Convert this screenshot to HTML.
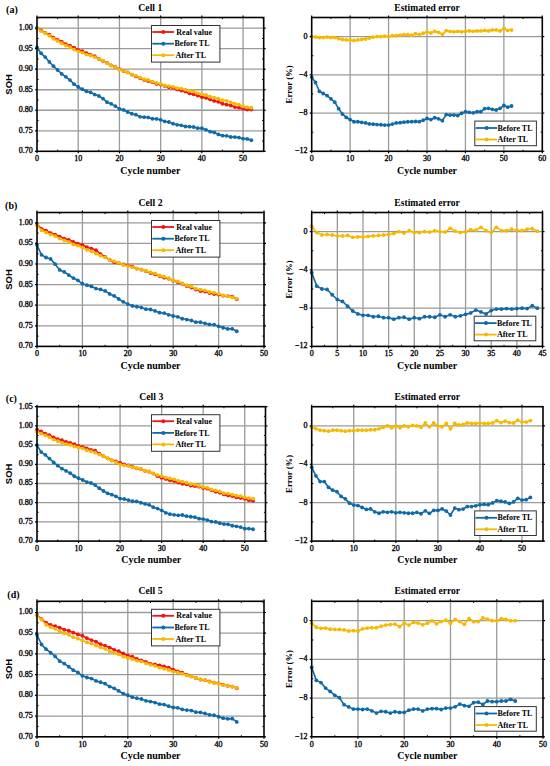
<!DOCTYPE html>
<html><head><meta charset="utf-8"><style>
html,body{margin:0;padding:0;background:#fff;}
body{width:550px;height:766px;overflow:hidden;}
svg{display:block;}
</style></head><body>
<svg width="550" height="766" viewBox="0 0 550 766">
<rect x="0" y="0" width="550" height="766" fill="#fff"/>
<line x1="78.22" y1="17.50" x2="78.22" y2="151.30" stroke="#9a9a9a" stroke-width="1.3"/>
<line x1="119.44" y1="17.50" x2="119.44" y2="151.30" stroke="#9a9a9a" stroke-width="1.3"/>
<line x1="160.65" y1="17.50" x2="160.65" y2="151.30" stroke="#9a9a9a" stroke-width="1.3"/>
<line x1="201.87" y1="17.50" x2="201.87" y2="151.30" stroke="#9a9a9a" stroke-width="1.3"/>
<line x1="243.09" y1="17.50" x2="243.09" y2="151.30" stroke="#9a9a9a" stroke-width="1.3"/>
<line x1="37.00" y1="130.78" x2="263.70" y2="130.78" stroke="#9a9a9a" stroke-width="1.3"/>
<line x1="37.00" y1="110.26" x2="263.70" y2="110.26" stroke="#9a9a9a" stroke-width="1.3"/>
<line x1="37.00" y1="89.74" x2="263.70" y2="89.74" stroke="#9a9a9a" stroke-width="1.3"/>
<line x1="37.00" y1="69.21" x2="263.70" y2="69.21" stroke="#9a9a9a" stroke-width="1.3"/>
<line x1="37.00" y1="48.69" x2="263.70" y2="48.69" stroke="#9a9a9a" stroke-width="1.3"/>
<line x1="37.00" y1="28.17" x2="263.70" y2="28.17" stroke="#9a9a9a" stroke-width="1.3"/>
<polyline points="37.00,28.17 41.12,30.33 45.24,32.82 49.37,34.74 53.49,37.65 57.61,39.85 61.73,41.68 65.85,44.22 69.97,45.74 74.10,47.75 78.22,50.05 82.34,51.10 86.46,53.12 90.58,54.88 94.71,56.20 98.83,58.96 102.95,60.88 107.07,62.85 111.19,65.41 115.31,66.95 119.44,69.11 123.56,71.11 127.68,72.34 131.80,74.60 135.92,76.45 140.05,77.99 144.17,79.95 148.29,80.98 152.41,82.21 156.53,83.92 160.65,84.60 164.78,85.88 168.90,87.15 173.02,87.77 177.14,89.43 181.26,90.54 185.39,91.58 189.51,93.45 193.63,94.32 197.75,95.54 201.87,97.10 205.99,97.85 210.12,99.45 214.24,100.89 218.36,101.81 222.48,103.77 226.60,104.64 230.73,105.51 234.85,107.10 238.97,107.66 243.09,108.71 247.21,109.57 251.33,109.54" fill="none" stroke="#f21212" stroke-width="1.6" stroke-linejoin="round"/>
<circle cx="37.00" cy="28.17" r="1.9" fill="#f21212"/>
<circle cx="41.12" cy="30.33" r="1.9" fill="#f21212"/>
<circle cx="45.24" cy="32.82" r="1.9" fill="#f21212"/>
<circle cx="49.37" cy="34.74" r="1.9" fill="#f21212"/>
<circle cx="53.49" cy="37.65" r="1.9" fill="#f21212"/>
<circle cx="57.61" cy="39.85" r="1.9" fill="#f21212"/>
<circle cx="61.73" cy="41.68" r="1.9" fill="#f21212"/>
<circle cx="65.85" cy="44.22" r="1.9" fill="#f21212"/>
<circle cx="69.97" cy="45.74" r="1.9" fill="#f21212"/>
<circle cx="74.10" cy="47.75" r="1.9" fill="#f21212"/>
<circle cx="78.22" cy="50.05" r="1.9" fill="#f21212"/>
<circle cx="82.34" cy="51.10" r="1.9" fill="#f21212"/>
<circle cx="86.46" cy="53.12" r="1.9" fill="#f21212"/>
<circle cx="90.58" cy="54.88" r="1.9" fill="#f21212"/>
<circle cx="94.71" cy="56.20" r="1.9" fill="#f21212"/>
<circle cx="98.83" cy="58.96" r="1.9" fill="#f21212"/>
<circle cx="102.95" cy="60.88" r="1.9" fill="#f21212"/>
<circle cx="107.07" cy="62.85" r="1.9" fill="#f21212"/>
<circle cx="111.19" cy="65.41" r="1.9" fill="#f21212"/>
<circle cx="115.31" cy="66.95" r="1.9" fill="#f21212"/>
<circle cx="119.44" cy="69.11" r="1.9" fill="#f21212"/>
<circle cx="123.56" cy="71.11" r="1.9" fill="#f21212"/>
<circle cx="127.68" cy="72.34" r="1.9" fill="#f21212"/>
<circle cx="131.80" cy="74.60" r="1.9" fill="#f21212"/>
<circle cx="135.92" cy="76.45" r="1.9" fill="#f21212"/>
<circle cx="140.05" cy="77.99" r="1.9" fill="#f21212"/>
<circle cx="144.17" cy="79.95" r="1.9" fill="#f21212"/>
<circle cx="148.29" cy="80.98" r="1.9" fill="#f21212"/>
<circle cx="152.41" cy="82.21" r="1.9" fill="#f21212"/>
<circle cx="156.53" cy="83.92" r="1.9" fill="#f21212"/>
<circle cx="160.65" cy="84.60" r="1.9" fill="#f21212"/>
<circle cx="164.78" cy="85.88" r="1.9" fill="#f21212"/>
<circle cx="168.90" cy="87.15" r="1.9" fill="#f21212"/>
<circle cx="173.02" cy="87.77" r="1.9" fill="#f21212"/>
<circle cx="177.14" cy="89.43" r="1.9" fill="#f21212"/>
<circle cx="181.26" cy="90.54" r="1.9" fill="#f21212"/>
<circle cx="185.39" cy="91.58" r="1.9" fill="#f21212"/>
<circle cx="189.51" cy="93.45" r="1.9" fill="#f21212"/>
<circle cx="193.63" cy="94.32" r="1.9" fill="#f21212"/>
<circle cx="197.75" cy="95.54" r="1.9" fill="#f21212"/>
<circle cx="201.87" cy="97.10" r="1.9" fill="#f21212"/>
<circle cx="205.99" cy="97.85" r="1.9" fill="#f21212"/>
<circle cx="210.12" cy="99.45" r="1.9" fill="#f21212"/>
<circle cx="214.24" cy="100.89" r="1.9" fill="#f21212"/>
<circle cx="218.36" cy="101.81" r="1.9" fill="#f21212"/>
<circle cx="222.48" cy="103.77" r="1.9" fill="#f21212"/>
<circle cx="226.60" cy="104.64" r="1.9" fill="#f21212"/>
<circle cx="230.73" cy="105.51" r="1.9" fill="#f21212"/>
<circle cx="234.85" cy="107.10" r="1.9" fill="#f21212"/>
<circle cx="238.97" cy="107.66" r="1.9" fill="#f21212"/>
<circle cx="243.09" cy="108.71" r="1.9" fill="#f21212"/>
<circle cx="247.21" cy="109.57" r="1.9" fill="#f21212"/>
<circle cx="251.33" cy="109.54" r="1.9" fill="#f21212"/>
<polyline points="37.00,47.46 41.12,53.33 45.24,57.09 49.37,61.97 53.49,66.22 57.61,70.01 61.73,73.94 65.85,76.84 69.97,80.12 74.10,84.17 78.22,87.02 82.34,89.17 86.46,91.23 90.58,92.31 94.71,94.54 98.83,95.99 102.95,98.54 107.07,102.18 111.19,103.84 115.31,106.08 119.44,108.89 123.56,109.92 127.68,111.99 131.80,113.76 135.92,114.71 140.05,116.81 144.17,117.15 148.29,117.46 152.41,118.77 156.53,118.92 160.65,119.84 164.78,121.46 168.90,121.99 173.02,123.64 177.14,124.79 181.26,125.29 185.39,126.50 189.51,126.66 193.63,127.00 197.75,128.20 201.87,128.24 205.99,129.86 210.12,131.64 214.24,132.43 218.36,134.39 222.48,135.65 226.60,135.80 230.73,137.01 234.85,137.08 238.97,137.54 243.09,138.69 247.21,138.89 251.33,140.13" fill="none" stroke="#0f6aa8" stroke-width="1.6" stroke-linejoin="round"/>
<circle cx="37.00" cy="47.46" r="1.9" fill="#0f6aa8"/>
<circle cx="41.12" cy="53.33" r="1.9" fill="#0f6aa8"/>
<circle cx="45.24" cy="57.09" r="1.9" fill="#0f6aa8"/>
<circle cx="49.37" cy="61.97" r="1.9" fill="#0f6aa8"/>
<circle cx="53.49" cy="66.22" r="1.9" fill="#0f6aa8"/>
<circle cx="57.61" cy="70.01" r="1.9" fill="#0f6aa8"/>
<circle cx="61.73" cy="73.94" r="1.9" fill="#0f6aa8"/>
<circle cx="65.85" cy="76.84" r="1.9" fill="#0f6aa8"/>
<circle cx="69.97" cy="80.12" r="1.9" fill="#0f6aa8"/>
<circle cx="74.10" cy="84.17" r="1.9" fill="#0f6aa8"/>
<circle cx="78.22" cy="87.02" r="1.9" fill="#0f6aa8"/>
<circle cx="82.34" cy="89.17" r="1.9" fill="#0f6aa8"/>
<circle cx="86.46" cy="91.23" r="1.9" fill="#0f6aa8"/>
<circle cx="90.58" cy="92.31" r="1.9" fill="#0f6aa8"/>
<circle cx="94.71" cy="94.54" r="1.9" fill="#0f6aa8"/>
<circle cx="98.83" cy="95.99" r="1.9" fill="#0f6aa8"/>
<circle cx="102.95" cy="98.54" r="1.9" fill="#0f6aa8"/>
<circle cx="107.07" cy="102.18" r="1.9" fill="#0f6aa8"/>
<circle cx="111.19" cy="103.84" r="1.9" fill="#0f6aa8"/>
<circle cx="115.31" cy="106.08" r="1.9" fill="#0f6aa8"/>
<circle cx="119.44" cy="108.89" r="1.9" fill="#0f6aa8"/>
<circle cx="123.56" cy="109.92" r="1.9" fill="#0f6aa8"/>
<circle cx="127.68" cy="111.99" r="1.9" fill="#0f6aa8"/>
<circle cx="131.80" cy="113.76" r="1.9" fill="#0f6aa8"/>
<circle cx="135.92" cy="114.71" r="1.9" fill="#0f6aa8"/>
<circle cx="140.05" cy="116.81" r="1.9" fill="#0f6aa8"/>
<circle cx="144.17" cy="117.15" r="1.9" fill="#0f6aa8"/>
<circle cx="148.29" cy="117.46" r="1.9" fill="#0f6aa8"/>
<circle cx="152.41" cy="118.77" r="1.9" fill="#0f6aa8"/>
<circle cx="156.53" cy="118.92" r="1.9" fill="#0f6aa8"/>
<circle cx="160.65" cy="119.84" r="1.9" fill="#0f6aa8"/>
<circle cx="164.78" cy="121.46" r="1.9" fill="#0f6aa8"/>
<circle cx="168.90" cy="121.99" r="1.9" fill="#0f6aa8"/>
<circle cx="173.02" cy="123.64" r="1.9" fill="#0f6aa8"/>
<circle cx="177.14" cy="124.79" r="1.9" fill="#0f6aa8"/>
<circle cx="181.26" cy="125.29" r="1.9" fill="#0f6aa8"/>
<circle cx="185.39" cy="126.50" r="1.9" fill="#0f6aa8"/>
<circle cx="189.51" cy="126.66" r="1.9" fill="#0f6aa8"/>
<circle cx="193.63" cy="127.00" r="1.9" fill="#0f6aa8"/>
<circle cx="197.75" cy="128.20" r="1.9" fill="#0f6aa8"/>
<circle cx="201.87" cy="128.24" r="1.9" fill="#0f6aa8"/>
<circle cx="205.99" cy="129.86" r="1.9" fill="#0f6aa8"/>
<circle cx="210.12" cy="131.64" r="1.9" fill="#0f6aa8"/>
<circle cx="214.24" cy="132.43" r="1.9" fill="#0f6aa8"/>
<circle cx="218.36" cy="134.39" r="1.9" fill="#0f6aa8"/>
<circle cx="222.48" cy="135.65" r="1.9" fill="#0f6aa8"/>
<circle cx="226.60" cy="135.80" r="1.9" fill="#0f6aa8"/>
<circle cx="230.73" cy="137.01" r="1.9" fill="#0f6aa8"/>
<circle cx="234.85" cy="137.08" r="1.9" fill="#0f6aa8"/>
<circle cx="238.97" cy="137.54" r="1.9" fill="#0f6aa8"/>
<circle cx="243.09" cy="138.69" r="1.9" fill="#0f6aa8"/>
<circle cx="247.21" cy="138.89" r="1.9" fill="#0f6aa8"/>
<circle cx="251.33" cy="140.13" r="1.9" fill="#0f6aa8"/>
<polyline points="37.00,28.17 41.12,31.08 45.24,33.24 49.37,35.73 53.49,38.77 57.61,40.92 61.73,43.24 65.85,45.50 69.97,47.07 74.10,49.57 78.22,51.37 82.34,52.57 86.46,54.55 90.58,55.58 94.71,57.11 98.83,59.04 102.95,60.61 107.07,63.10 111.19,65.35 115.31,67.04 119.44,69.64 123.56,71.09 127.68,72.52 131.80,74.64 135.92,75.79 140.05,77.58 144.17,79.13 148.29,79.90 152.41,81.64 156.53,82.98 160.65,83.89 164.78,85.42 168.90,86.05 173.02,86.82 177.14,88.16 181.26,88.54 185.39,89.70 189.51,90.94 193.63,91.48 197.75,93.04 201.87,94.04 205.99,95.00 210.12,96.77 214.24,97.56 218.36,98.66 222.48,100.20 226.60,100.81 230.73,102.30 234.85,103.72 238.97,104.56 243.09,106.40 247.21,107.14 251.33,107.75" fill="none" stroke="#f7b900" stroke-width="1.6" stroke-linejoin="round"/>
<circle cx="37.00" cy="28.17" r="1.9" fill="#f7b900"/>
<circle cx="41.12" cy="31.08" r="1.9" fill="#f7b900"/>
<circle cx="45.24" cy="33.24" r="1.9" fill="#f7b900"/>
<circle cx="49.37" cy="35.73" r="1.9" fill="#f7b900"/>
<circle cx="53.49" cy="38.77" r="1.9" fill="#f7b900"/>
<circle cx="57.61" cy="40.92" r="1.9" fill="#f7b900"/>
<circle cx="61.73" cy="43.24" r="1.9" fill="#f7b900"/>
<circle cx="65.85" cy="45.50" r="1.9" fill="#f7b900"/>
<circle cx="69.97" cy="47.07" r="1.9" fill="#f7b900"/>
<circle cx="74.10" cy="49.57" r="1.9" fill="#f7b900"/>
<circle cx="78.22" cy="51.37" r="1.9" fill="#f7b900"/>
<circle cx="82.34" cy="52.57" r="1.9" fill="#f7b900"/>
<circle cx="86.46" cy="54.55" r="1.9" fill="#f7b900"/>
<circle cx="90.58" cy="55.58" r="1.9" fill="#f7b900"/>
<circle cx="94.71" cy="57.11" r="1.9" fill="#f7b900"/>
<circle cx="98.83" cy="59.04" r="1.9" fill="#f7b900"/>
<circle cx="102.95" cy="60.61" r="1.9" fill="#f7b900"/>
<circle cx="107.07" cy="63.10" r="1.9" fill="#f7b900"/>
<circle cx="111.19" cy="65.35" r="1.9" fill="#f7b900"/>
<circle cx="115.31" cy="67.04" r="1.9" fill="#f7b900"/>
<circle cx="119.44" cy="69.64" r="1.9" fill="#f7b900"/>
<circle cx="123.56" cy="71.09" r="1.9" fill="#f7b900"/>
<circle cx="127.68" cy="72.52" r="1.9" fill="#f7b900"/>
<circle cx="131.80" cy="74.64" r="1.9" fill="#f7b900"/>
<circle cx="135.92" cy="75.79" r="1.9" fill="#f7b900"/>
<circle cx="140.05" cy="77.58" r="1.9" fill="#f7b900"/>
<circle cx="144.17" cy="79.13" r="1.9" fill="#f7b900"/>
<circle cx="148.29" cy="79.90" r="1.9" fill="#f7b900"/>
<circle cx="152.41" cy="81.64" r="1.9" fill="#f7b900"/>
<circle cx="156.53" cy="82.98" r="1.9" fill="#f7b900"/>
<circle cx="160.65" cy="83.89" r="1.9" fill="#f7b900"/>
<circle cx="164.78" cy="85.42" r="1.9" fill="#f7b900"/>
<circle cx="168.90" cy="86.05" r="1.9" fill="#f7b900"/>
<circle cx="173.02" cy="86.82" r="1.9" fill="#f7b900"/>
<circle cx="177.14" cy="88.16" r="1.9" fill="#f7b900"/>
<circle cx="181.26" cy="88.54" r="1.9" fill="#f7b900"/>
<circle cx="185.39" cy="89.70" r="1.9" fill="#f7b900"/>
<circle cx="189.51" cy="90.94" r="1.9" fill="#f7b900"/>
<circle cx="193.63" cy="91.48" r="1.9" fill="#f7b900"/>
<circle cx="197.75" cy="93.04" r="1.9" fill="#f7b900"/>
<circle cx="201.87" cy="94.04" r="1.9" fill="#f7b900"/>
<circle cx="205.99" cy="95.00" r="1.9" fill="#f7b900"/>
<circle cx="210.12" cy="96.77" r="1.9" fill="#f7b900"/>
<circle cx="214.24" cy="97.56" r="1.9" fill="#f7b900"/>
<circle cx="218.36" cy="98.66" r="1.9" fill="#f7b900"/>
<circle cx="222.48" cy="100.20" r="1.9" fill="#f7b900"/>
<circle cx="226.60" cy="100.81" r="1.9" fill="#f7b900"/>
<circle cx="230.73" cy="102.30" r="1.9" fill="#f7b900"/>
<circle cx="234.85" cy="103.72" r="1.9" fill="#f7b900"/>
<circle cx="238.97" cy="104.56" r="1.9" fill="#f7b900"/>
<circle cx="243.09" cy="106.40" r="1.9" fill="#f7b900"/>
<circle cx="247.21" cy="107.14" r="1.9" fill="#f7b900"/>
<circle cx="251.33" cy="107.75" r="1.9" fill="#f7b900"/>
<rect x="37.00" y="17.50" width="226.70" height="133.80" fill="none" stroke="#000" stroke-width="1.6"/>
<line x1="37.00" y1="151.30" x2="37.00" y2="153.30" stroke="#000" stroke-width="1.2"/>
<line x1="37.00" y1="17.50" x2="37.00" y2="15.50" stroke="#000" stroke-width="1.2"/>
<line x1="78.22" y1="151.30" x2="78.22" y2="153.30" stroke="#000" stroke-width="1.2"/>
<line x1="78.22" y1="17.50" x2="78.22" y2="15.50" stroke="#000" stroke-width="1.2"/>
<line x1="119.44" y1="151.30" x2="119.44" y2="153.30" stroke="#000" stroke-width="1.2"/>
<line x1="119.44" y1="17.50" x2="119.44" y2="15.50" stroke="#000" stroke-width="1.2"/>
<line x1="160.65" y1="151.30" x2="160.65" y2="153.30" stroke="#000" stroke-width="1.2"/>
<line x1="160.65" y1="17.50" x2="160.65" y2="15.50" stroke="#000" stroke-width="1.2"/>
<line x1="201.87" y1="151.30" x2="201.87" y2="153.30" stroke="#000" stroke-width="1.2"/>
<line x1="201.87" y1="17.50" x2="201.87" y2="15.50" stroke="#000" stroke-width="1.2"/>
<line x1="243.09" y1="151.30" x2="243.09" y2="153.30" stroke="#000" stroke-width="1.2"/>
<line x1="243.09" y1="17.50" x2="243.09" y2="15.50" stroke="#000" stroke-width="1.2"/>
<line x1="37.00" y1="151.30" x2="35.00" y2="151.30" stroke="#000" stroke-width="1.2"/>
<line x1="263.70" y1="151.30" x2="265.70" y2="151.30" stroke="#000" stroke-width="1.2"/>
<line x1="37.00" y1="130.78" x2="35.00" y2="130.78" stroke="#000" stroke-width="1.2"/>
<line x1="263.70" y1="130.78" x2="265.70" y2="130.78" stroke="#000" stroke-width="1.2"/>
<line x1="37.00" y1="110.26" x2="35.00" y2="110.26" stroke="#000" stroke-width="1.2"/>
<line x1="263.70" y1="110.26" x2="265.70" y2="110.26" stroke="#000" stroke-width="1.2"/>
<line x1="37.00" y1="89.74" x2="35.00" y2="89.74" stroke="#000" stroke-width="1.2"/>
<line x1="263.70" y1="89.74" x2="265.70" y2="89.74" stroke="#000" stroke-width="1.2"/>
<line x1="37.00" y1="69.21" x2="35.00" y2="69.21" stroke="#000" stroke-width="1.2"/>
<line x1="263.70" y1="69.21" x2="265.70" y2="69.21" stroke="#000" stroke-width="1.2"/>
<line x1="37.00" y1="48.69" x2="35.00" y2="48.69" stroke="#000" stroke-width="1.2"/>
<line x1="263.70" y1="48.69" x2="265.70" y2="48.69" stroke="#000" stroke-width="1.2"/>
<line x1="37.00" y1="28.17" x2="35.00" y2="28.17" stroke="#000" stroke-width="1.2"/>
<line x1="263.70" y1="28.17" x2="265.70" y2="28.17" stroke="#000" stroke-width="1.2"/>
<line x1="57.61" y1="151.30" x2="57.61" y2="149.70" stroke="#000" stroke-width="1"/>
<line x1="57.61" y1="17.50" x2="57.61" y2="19.10" stroke="#000" stroke-width="1"/>
<line x1="98.83" y1="151.30" x2="98.83" y2="149.70" stroke="#000" stroke-width="1"/>
<line x1="98.83" y1="17.50" x2="98.83" y2="19.10" stroke="#000" stroke-width="1"/>
<line x1="140.05" y1="151.30" x2="140.05" y2="149.70" stroke="#000" stroke-width="1"/>
<line x1="140.05" y1="17.50" x2="140.05" y2="19.10" stroke="#000" stroke-width="1"/>
<line x1="181.26" y1="151.30" x2="181.26" y2="149.70" stroke="#000" stroke-width="1"/>
<line x1="181.26" y1="17.50" x2="181.26" y2="19.10" stroke="#000" stroke-width="1"/>
<line x1="222.48" y1="151.30" x2="222.48" y2="149.70" stroke="#000" stroke-width="1"/>
<line x1="222.48" y1="17.50" x2="222.48" y2="19.10" stroke="#000" stroke-width="1"/>
<line x1="37.00" y1="141.04" x2="38.60" y2="141.04" stroke="#000" stroke-width="1"/>
<line x1="263.70" y1="141.04" x2="262.10" y2="141.04" stroke="#000" stroke-width="1"/>
<line x1="37.00" y1="120.52" x2="38.60" y2="120.52" stroke="#000" stroke-width="1"/>
<line x1="263.70" y1="120.52" x2="262.10" y2="120.52" stroke="#000" stroke-width="1"/>
<line x1="37.00" y1="100.00" x2="38.60" y2="100.00" stroke="#000" stroke-width="1"/>
<line x1="263.70" y1="100.00" x2="262.10" y2="100.00" stroke="#000" stroke-width="1"/>
<line x1="37.00" y1="79.47" x2="38.60" y2="79.47" stroke="#000" stroke-width="1"/>
<line x1="263.70" y1="79.47" x2="262.10" y2="79.47" stroke="#000" stroke-width="1"/>
<line x1="37.00" y1="58.95" x2="38.60" y2="58.95" stroke="#000" stroke-width="1"/>
<line x1="263.70" y1="58.95" x2="262.10" y2="58.95" stroke="#000" stroke-width="1"/>
<line x1="37.00" y1="38.43" x2="38.60" y2="38.43" stroke="#000" stroke-width="1"/>
<line x1="263.70" y1="38.43" x2="262.10" y2="38.43" stroke="#000" stroke-width="1"/>
<line x1="37.00" y1="17.91" x2="38.60" y2="17.91" stroke="#000" stroke-width="1"/>
<line x1="263.70" y1="17.91" x2="262.10" y2="17.91" stroke="#000" stroke-width="1"/>
<text x="0" y="0" transform="translate(37.00,161.00) scale(1.100,1)" style="font-family:'Liberation Serif',serif;font-size:7.30px" text-anchor="middle" stroke="#000" stroke-width="0.30">0</text>
<text x="0" y="0" transform="translate(78.22,161.00) scale(1.100,1)" style="font-family:'Liberation Serif',serif;font-size:7.30px" text-anchor="middle" stroke="#000" stroke-width="0.30">10</text>
<text x="0" y="0" transform="translate(119.44,161.00) scale(1.100,1)" style="font-family:'Liberation Serif',serif;font-size:7.30px" text-anchor="middle" stroke="#000" stroke-width="0.30">20</text>
<text x="0" y="0" transform="translate(160.65,161.00) scale(1.100,1)" style="font-family:'Liberation Serif',serif;font-size:7.30px" text-anchor="middle" stroke="#000" stroke-width="0.30">30</text>
<text x="0" y="0" transform="translate(201.87,161.00) scale(1.100,1)" style="font-family:'Liberation Serif',serif;font-size:7.30px" text-anchor="middle" stroke="#000" stroke-width="0.30">40</text>
<text x="0" y="0" transform="translate(243.09,161.00) scale(1.100,1)" style="font-family:'Liberation Serif',serif;font-size:7.30px" text-anchor="middle" stroke="#000" stroke-width="0.30">50</text>
<text x="0" y="0" transform="translate(32.70,153.20) scale(1.100,1)" style="font-family:'Liberation Serif',serif;font-size:7.30px" text-anchor="end" stroke="#000" stroke-width="0.30">0.70</text>
<text x="0" y="0" transform="translate(32.70,132.68) scale(1.100,1)" style="font-family:'Liberation Serif',serif;font-size:7.30px" text-anchor="end" stroke="#000" stroke-width="0.30">0.75</text>
<text x="0" y="0" transform="translate(32.70,112.16) scale(1.100,1)" style="font-family:'Liberation Serif',serif;font-size:7.30px" text-anchor="end" stroke="#000" stroke-width="0.30">0.80</text>
<text x="0" y="0" transform="translate(32.70,91.64) scale(1.100,1)" style="font-family:'Liberation Serif',serif;font-size:7.30px" text-anchor="end" stroke="#000" stroke-width="0.30">0.85</text>
<text x="0" y="0" transform="translate(32.70,71.11) scale(1.100,1)" style="font-family:'Liberation Serif',serif;font-size:7.30px" text-anchor="end" stroke="#000" stroke-width="0.30">0.90</text>
<text x="0" y="0" transform="translate(32.70,50.59) scale(1.100,1)" style="font-family:'Liberation Serif',serif;font-size:7.30px" text-anchor="end" stroke="#000" stroke-width="0.30">0.95</text>
<text x="0" y="0" transform="translate(32.70,30.07) scale(1.100,1)" style="font-family:'Liberation Serif',serif;font-size:7.30px" text-anchor="end" stroke="#000" stroke-width="0.30">1.00</text>
<text x="150.35" y="10.50" style="font-family:'Liberation Serif',serif;font-size:9.40px;font-weight:bold" text-anchor="middle" textLength="24.0" lengthAdjust="spacingAndGlyphs">Cell 1</text>
<text x="150.35" y="173.60" style="font-family:'Liberation Serif',serif;font-size:9.60px;font-weight:bold" text-anchor="middle" textLength="60.0" lengthAdjust="spacingAndGlyphs">Cycle number</text>
<text x="0" y="0" transform="translate(12.20,84.40) rotate(-90)" style="font-family:'Liberation Sans',sans-serif;font-size:9px;font-weight:bold" text-anchor="middle" textLength="20.5" lengthAdjust="spacingAndGlyphs">SOH</text>
<rect x="151.50" y="25.50" width="68.40" height="36.60" fill="#fff" stroke="#333" stroke-width="1"/>
<line x1="152.30" y1="32.00" x2="174.00" y2="32.00" stroke="#f21212" stroke-width="1.8"/>
<circle cx="163.30" cy="32.00" r="2" fill="#f21212"/>
<text x="176.30" y="34.60" style="font-family:'Liberation Serif',serif;font-size:8.00px;font-weight:bold" text-anchor="start">Real value</text>
<line x1="152.30" y1="43.70" x2="174.00" y2="43.70" stroke="#0f6aa8" stroke-width="1.8"/>
<circle cx="163.30" cy="43.70" r="2" fill="#0f6aa8"/>
<text x="174.50" y="46.30" style="font-family:'Liberation Serif',serif;font-size:8.00px;font-weight:bold" text-anchor="start">Before TL</text>
<line x1="152.30" y1="55.20" x2="174.00" y2="55.20" stroke="#f7b900" stroke-width="1.8"/>
<circle cx="163.30" cy="55.20" r="2" fill="#f7b900"/>
<text x="175.40" y="57.80" style="font-family:'Liberation Serif',serif;font-size:8.00px;font-weight:bold" text-anchor="start">After TL</text>
<line x1="350.13" y1="17.50" x2="350.13" y2="151.30" stroke="#9a9a9a" stroke-width="1.3"/>
<line x1="388.57" y1="17.50" x2="388.57" y2="151.30" stroke="#9a9a9a" stroke-width="1.3"/>
<line x1="427.00" y1="17.50" x2="427.00" y2="151.30" stroke="#9a9a9a" stroke-width="1.3"/>
<line x1="465.43" y1="17.50" x2="465.43" y2="151.30" stroke="#9a9a9a" stroke-width="1.3"/>
<line x1="503.87" y1="17.50" x2="503.87" y2="151.30" stroke="#9a9a9a" stroke-width="1.3"/>
<line x1="311.70" y1="113.07" x2="542.30" y2="113.07" stroke="#9a9a9a" stroke-width="1.3"/>
<line x1="311.70" y1="74.84" x2="542.30" y2="74.84" stroke="#9a9a9a" stroke-width="1.3"/>
<line x1="311.70" y1="36.61" x2="542.30" y2="36.61" stroke="#9a9a9a" stroke-width="1.3"/>
<polyline points="311.70,77.04 315.54,82.49 319.39,91.28 323.23,93.48 327.07,95.58 330.92,98.83 334.76,102.18 338.60,108.68 342.45,114.03 346.29,117.47 350.13,119.57 353.98,121.77 357.82,121.77 361.66,122.34 365.51,122.92 369.35,123.97 373.19,124.16 377.04,124.54 380.88,124.73 384.72,125.11 388.57,125.11 392.41,124.06 396.25,122.92 400.10,122.63 403.94,122.15 407.78,121.77 411.63,121.67 415.47,121.48 419.31,121.67 423.16,120.24 427.00,118.42 430.84,119.57 434.69,117.75 438.53,118.81 442.37,120.72 446.22,114.60 450.06,115.08 453.90,115.08 457.75,115.56 461.59,113.26 465.43,111.64 469.28,112.31 473.12,112.78 476.96,111.64 480.81,111.64 484.65,108.68 488.49,108.29 492.34,109.34 496.18,110.01 500.02,108.29 503.87,105.52 507.71,107.15 511.55,106.00" fill="none" stroke="#0f6aa8" stroke-width="1.6" stroke-linejoin="round"/>
<circle cx="311.70" cy="77.04" r="1.9" fill="#0f6aa8"/>
<circle cx="315.54" cy="82.49" r="1.9" fill="#0f6aa8"/>
<circle cx="319.39" cy="91.28" r="1.9" fill="#0f6aa8"/>
<circle cx="323.23" cy="93.48" r="1.9" fill="#0f6aa8"/>
<circle cx="327.07" cy="95.58" r="1.9" fill="#0f6aa8"/>
<circle cx="330.92" cy="98.83" r="1.9" fill="#0f6aa8"/>
<circle cx="334.76" cy="102.18" r="1.9" fill="#0f6aa8"/>
<circle cx="338.60" cy="108.68" r="1.9" fill="#0f6aa8"/>
<circle cx="342.45" cy="114.03" r="1.9" fill="#0f6aa8"/>
<circle cx="346.29" cy="117.47" r="1.9" fill="#0f6aa8"/>
<circle cx="350.13" cy="119.57" r="1.9" fill="#0f6aa8"/>
<circle cx="353.98" cy="121.77" r="1.9" fill="#0f6aa8"/>
<circle cx="357.82" cy="121.77" r="1.9" fill="#0f6aa8"/>
<circle cx="361.66" cy="122.34" r="1.9" fill="#0f6aa8"/>
<circle cx="365.51" cy="122.92" r="1.9" fill="#0f6aa8"/>
<circle cx="369.35" cy="123.97" r="1.9" fill="#0f6aa8"/>
<circle cx="373.19" cy="124.16" r="1.9" fill="#0f6aa8"/>
<circle cx="377.04" cy="124.54" r="1.9" fill="#0f6aa8"/>
<circle cx="380.88" cy="124.73" r="1.9" fill="#0f6aa8"/>
<circle cx="384.72" cy="125.11" r="1.9" fill="#0f6aa8"/>
<circle cx="388.57" cy="125.11" r="1.9" fill="#0f6aa8"/>
<circle cx="392.41" cy="124.06" r="1.9" fill="#0f6aa8"/>
<circle cx="396.25" cy="122.92" r="1.9" fill="#0f6aa8"/>
<circle cx="400.10" cy="122.63" r="1.9" fill="#0f6aa8"/>
<circle cx="403.94" cy="122.15" r="1.9" fill="#0f6aa8"/>
<circle cx="407.78" cy="121.77" r="1.9" fill="#0f6aa8"/>
<circle cx="411.63" cy="121.67" r="1.9" fill="#0f6aa8"/>
<circle cx="415.47" cy="121.48" r="1.9" fill="#0f6aa8"/>
<circle cx="419.31" cy="121.67" r="1.9" fill="#0f6aa8"/>
<circle cx="423.16" cy="120.24" r="1.9" fill="#0f6aa8"/>
<circle cx="427.00" cy="118.42" r="1.9" fill="#0f6aa8"/>
<circle cx="430.84" cy="119.57" r="1.9" fill="#0f6aa8"/>
<circle cx="434.69" cy="117.75" r="1.9" fill="#0f6aa8"/>
<circle cx="438.53" cy="118.81" r="1.9" fill="#0f6aa8"/>
<circle cx="442.37" cy="120.72" r="1.9" fill="#0f6aa8"/>
<circle cx="446.22" cy="114.60" r="1.9" fill="#0f6aa8"/>
<circle cx="450.06" cy="115.08" r="1.9" fill="#0f6aa8"/>
<circle cx="453.90" cy="115.08" r="1.9" fill="#0f6aa8"/>
<circle cx="457.75" cy="115.56" r="1.9" fill="#0f6aa8"/>
<circle cx="461.59" cy="113.26" r="1.9" fill="#0f6aa8"/>
<circle cx="465.43" cy="111.64" r="1.9" fill="#0f6aa8"/>
<circle cx="469.28" cy="112.31" r="1.9" fill="#0f6aa8"/>
<circle cx="473.12" cy="112.78" r="1.9" fill="#0f6aa8"/>
<circle cx="476.96" cy="111.64" r="1.9" fill="#0f6aa8"/>
<circle cx="480.81" cy="111.64" r="1.9" fill="#0f6aa8"/>
<circle cx="484.65" cy="108.68" r="1.9" fill="#0f6aa8"/>
<circle cx="488.49" cy="108.29" r="1.9" fill="#0f6aa8"/>
<circle cx="492.34" cy="109.34" r="1.9" fill="#0f6aa8"/>
<circle cx="496.18" cy="110.01" r="1.9" fill="#0f6aa8"/>
<circle cx="500.02" cy="108.29" r="1.9" fill="#0f6aa8"/>
<circle cx="503.87" cy="105.52" r="1.9" fill="#0f6aa8"/>
<circle cx="507.71" cy="107.15" r="1.9" fill="#0f6aa8"/>
<circle cx="511.55" cy="106.00" r="1.9" fill="#0f6aa8"/>
<polyline points="311.70,36.61 315.54,37.09 319.39,37.57 323.23,37.57 327.07,37.09 330.92,37.57 334.76,37.57 338.60,38.53 342.45,39.48 346.29,39.96 350.13,39.96 353.98,40.44 357.82,39.96 361.66,39.48 365.51,39.00 369.35,38.05 373.19,37.09 377.04,36.61 380.88,36.61 384.72,36.14 388.57,36.61 392.41,35.66 396.25,35.66 400.10,35.18 403.94,34.70 407.78,34.70 411.63,35.18 415.47,33.75 419.31,34.70 423.16,33.27 427.00,32.03 430.84,32.98 434.69,31.36 438.53,32.31 442.37,34.32 446.22,30.69 450.06,31.36 453.90,31.84 457.75,31.36 461.59,31.84 465.43,31.36 469.28,30.88 473.12,31.36 476.96,30.88 480.81,30.88 484.65,30.40 488.49,30.88 492.34,29.92 496.18,29.92 500.02,30.88 503.87,28.49 507.71,30.40 511.55,30.02" fill="none" stroke="#f7b900" stroke-width="1.6" stroke-linejoin="round"/>
<circle cx="311.70" cy="36.61" r="1.9" fill="#f7b900"/>
<circle cx="315.54" cy="37.09" r="1.9" fill="#f7b900"/>
<circle cx="319.39" cy="37.57" r="1.9" fill="#f7b900"/>
<circle cx="323.23" cy="37.57" r="1.9" fill="#f7b900"/>
<circle cx="327.07" cy="37.09" r="1.9" fill="#f7b900"/>
<circle cx="330.92" cy="37.57" r="1.9" fill="#f7b900"/>
<circle cx="334.76" cy="37.57" r="1.9" fill="#f7b900"/>
<circle cx="338.60" cy="38.53" r="1.9" fill="#f7b900"/>
<circle cx="342.45" cy="39.48" r="1.9" fill="#f7b900"/>
<circle cx="346.29" cy="39.96" r="1.9" fill="#f7b900"/>
<circle cx="350.13" cy="39.96" r="1.9" fill="#f7b900"/>
<circle cx="353.98" cy="40.44" r="1.9" fill="#f7b900"/>
<circle cx="357.82" cy="39.96" r="1.9" fill="#f7b900"/>
<circle cx="361.66" cy="39.48" r="1.9" fill="#f7b900"/>
<circle cx="365.51" cy="39.00" r="1.9" fill="#f7b900"/>
<circle cx="369.35" cy="38.05" r="1.9" fill="#f7b900"/>
<circle cx="373.19" cy="37.09" r="1.9" fill="#f7b900"/>
<circle cx="377.04" cy="36.61" r="1.9" fill="#f7b900"/>
<circle cx="380.88" cy="36.61" r="1.9" fill="#f7b900"/>
<circle cx="384.72" cy="36.14" r="1.9" fill="#f7b900"/>
<circle cx="388.57" cy="36.61" r="1.9" fill="#f7b900"/>
<circle cx="392.41" cy="35.66" r="1.9" fill="#f7b900"/>
<circle cx="396.25" cy="35.66" r="1.9" fill="#f7b900"/>
<circle cx="400.10" cy="35.18" r="1.9" fill="#f7b900"/>
<circle cx="403.94" cy="34.70" r="1.9" fill="#f7b900"/>
<circle cx="407.78" cy="34.70" r="1.9" fill="#f7b900"/>
<circle cx="411.63" cy="35.18" r="1.9" fill="#f7b900"/>
<circle cx="415.47" cy="33.75" r="1.9" fill="#f7b900"/>
<circle cx="419.31" cy="34.70" r="1.9" fill="#f7b900"/>
<circle cx="423.16" cy="33.27" r="1.9" fill="#f7b900"/>
<circle cx="427.00" cy="32.03" r="1.9" fill="#f7b900"/>
<circle cx="430.84" cy="32.98" r="1.9" fill="#f7b900"/>
<circle cx="434.69" cy="31.36" r="1.9" fill="#f7b900"/>
<circle cx="438.53" cy="32.31" r="1.9" fill="#f7b900"/>
<circle cx="442.37" cy="34.32" r="1.9" fill="#f7b900"/>
<circle cx="446.22" cy="30.69" r="1.9" fill="#f7b900"/>
<circle cx="450.06" cy="31.36" r="1.9" fill="#f7b900"/>
<circle cx="453.90" cy="31.84" r="1.9" fill="#f7b900"/>
<circle cx="457.75" cy="31.36" r="1.9" fill="#f7b900"/>
<circle cx="461.59" cy="31.84" r="1.9" fill="#f7b900"/>
<circle cx="465.43" cy="31.36" r="1.9" fill="#f7b900"/>
<circle cx="469.28" cy="30.88" r="1.9" fill="#f7b900"/>
<circle cx="473.12" cy="31.36" r="1.9" fill="#f7b900"/>
<circle cx="476.96" cy="30.88" r="1.9" fill="#f7b900"/>
<circle cx="480.81" cy="30.88" r="1.9" fill="#f7b900"/>
<circle cx="484.65" cy="30.40" r="1.9" fill="#f7b900"/>
<circle cx="488.49" cy="30.88" r="1.9" fill="#f7b900"/>
<circle cx="492.34" cy="29.92" r="1.9" fill="#f7b900"/>
<circle cx="496.18" cy="29.92" r="1.9" fill="#f7b900"/>
<circle cx="500.02" cy="30.88" r="1.9" fill="#f7b900"/>
<circle cx="503.87" cy="28.49" r="1.9" fill="#f7b900"/>
<circle cx="507.71" cy="30.40" r="1.9" fill="#f7b900"/>
<circle cx="511.55" cy="30.02" r="1.9" fill="#f7b900"/>
<rect x="311.70" y="17.50" width="230.60" height="133.80" fill="none" stroke="#000" stroke-width="1.6"/>
<line x1="311.70" y1="151.30" x2="311.70" y2="153.30" stroke="#000" stroke-width="1.2"/>
<line x1="311.70" y1="17.50" x2="311.70" y2="15.50" stroke="#000" stroke-width="1.2"/>
<line x1="350.13" y1="151.30" x2="350.13" y2="153.30" stroke="#000" stroke-width="1.2"/>
<line x1="350.13" y1="17.50" x2="350.13" y2="15.50" stroke="#000" stroke-width="1.2"/>
<line x1="388.57" y1="151.30" x2="388.57" y2="153.30" stroke="#000" stroke-width="1.2"/>
<line x1="388.57" y1="17.50" x2="388.57" y2="15.50" stroke="#000" stroke-width="1.2"/>
<line x1="427.00" y1="151.30" x2="427.00" y2="153.30" stroke="#000" stroke-width="1.2"/>
<line x1="427.00" y1="17.50" x2="427.00" y2="15.50" stroke="#000" stroke-width="1.2"/>
<line x1="465.43" y1="151.30" x2="465.43" y2="153.30" stroke="#000" stroke-width="1.2"/>
<line x1="465.43" y1="17.50" x2="465.43" y2="15.50" stroke="#000" stroke-width="1.2"/>
<line x1="503.87" y1="151.30" x2="503.87" y2="153.30" stroke="#000" stroke-width="1.2"/>
<line x1="503.87" y1="17.50" x2="503.87" y2="15.50" stroke="#000" stroke-width="1.2"/>
<line x1="542.30" y1="151.30" x2="542.30" y2="153.30" stroke="#000" stroke-width="1.2"/>
<line x1="542.30" y1="17.50" x2="542.30" y2="15.50" stroke="#000" stroke-width="1.2"/>
<line x1="311.70" y1="151.30" x2="309.70" y2="151.30" stroke="#000" stroke-width="1.2"/>
<line x1="542.30" y1="151.30" x2="544.30" y2="151.30" stroke="#000" stroke-width="1.2"/>
<line x1="311.70" y1="113.07" x2="309.70" y2="113.07" stroke="#000" stroke-width="1.2"/>
<line x1="542.30" y1="113.07" x2="544.30" y2="113.07" stroke="#000" stroke-width="1.2"/>
<line x1="311.70" y1="74.84" x2="309.70" y2="74.84" stroke="#000" stroke-width="1.2"/>
<line x1="542.30" y1="74.84" x2="544.30" y2="74.84" stroke="#000" stroke-width="1.2"/>
<line x1="311.70" y1="36.61" x2="309.70" y2="36.61" stroke="#000" stroke-width="1.2"/>
<line x1="542.30" y1="36.61" x2="544.30" y2="36.61" stroke="#000" stroke-width="1.2"/>
<line x1="330.92" y1="151.30" x2="330.92" y2="149.70" stroke="#000" stroke-width="1"/>
<line x1="330.92" y1="17.50" x2="330.92" y2="19.10" stroke="#000" stroke-width="1"/>
<line x1="369.35" y1="151.30" x2="369.35" y2="149.70" stroke="#000" stroke-width="1"/>
<line x1="369.35" y1="17.50" x2="369.35" y2="19.10" stroke="#000" stroke-width="1"/>
<line x1="407.78" y1="151.30" x2="407.78" y2="149.70" stroke="#000" stroke-width="1"/>
<line x1="407.78" y1="17.50" x2="407.78" y2="19.10" stroke="#000" stroke-width="1"/>
<line x1="446.22" y1="151.30" x2="446.22" y2="149.70" stroke="#000" stroke-width="1"/>
<line x1="446.22" y1="17.50" x2="446.22" y2="19.10" stroke="#000" stroke-width="1"/>
<line x1="484.65" y1="151.30" x2="484.65" y2="149.70" stroke="#000" stroke-width="1"/>
<line x1="484.65" y1="17.50" x2="484.65" y2="19.10" stroke="#000" stroke-width="1"/>
<line x1="523.08" y1="151.30" x2="523.08" y2="149.70" stroke="#000" stroke-width="1"/>
<line x1="523.08" y1="17.50" x2="523.08" y2="19.10" stroke="#000" stroke-width="1"/>
<line x1="311.70" y1="132.19" x2="313.30" y2="132.19" stroke="#000" stroke-width="1"/>
<line x1="542.30" y1="132.19" x2="540.70" y2="132.19" stroke="#000" stroke-width="1"/>
<line x1="311.70" y1="93.96" x2="313.30" y2="93.96" stroke="#000" stroke-width="1"/>
<line x1="542.30" y1="93.96" x2="540.70" y2="93.96" stroke="#000" stroke-width="1"/>
<line x1="311.70" y1="55.73" x2="313.30" y2="55.73" stroke="#000" stroke-width="1"/>
<line x1="542.30" y1="55.73" x2="540.70" y2="55.73" stroke="#000" stroke-width="1"/>
<text x="0" y="0" transform="translate(311.70,161.00) scale(1.100,1)" style="font-family:'Liberation Serif',serif;font-size:7.30px" text-anchor="middle" stroke="#000" stroke-width="0.30">0</text>
<text x="0" y="0" transform="translate(350.13,161.00) scale(1.100,1)" style="font-family:'Liberation Serif',serif;font-size:7.30px" text-anchor="middle" stroke="#000" stroke-width="0.30">10</text>
<text x="0" y="0" transform="translate(388.57,161.00) scale(1.100,1)" style="font-family:'Liberation Serif',serif;font-size:7.30px" text-anchor="middle" stroke="#000" stroke-width="0.30">20</text>
<text x="0" y="0" transform="translate(427.00,161.00) scale(1.100,1)" style="font-family:'Liberation Serif',serif;font-size:7.30px" text-anchor="middle" stroke="#000" stroke-width="0.30">30</text>
<text x="0" y="0" transform="translate(465.43,161.00) scale(1.100,1)" style="font-family:'Liberation Serif',serif;font-size:7.30px" text-anchor="middle" stroke="#000" stroke-width="0.30">40</text>
<text x="0" y="0" transform="translate(503.87,161.00) scale(1.100,1)" style="font-family:'Liberation Serif',serif;font-size:7.30px" text-anchor="middle" stroke="#000" stroke-width="0.30">50</text>
<text x="0" y="0" transform="translate(542.30,161.00) scale(1.100,1)" style="font-family:'Liberation Serif',serif;font-size:7.30px" text-anchor="middle" stroke="#000" stroke-width="0.30">60</text>
<text x="0" y="0" transform="translate(307.40,153.20) scale(1.100,1)" style="font-family:'Liberation Serif',serif;font-size:7.30px" text-anchor="end" stroke="#000" stroke-width="0.30">−12</text>
<text x="0" y="0" transform="translate(307.40,114.97) scale(1.100,1)" style="font-family:'Liberation Serif',serif;font-size:7.30px" text-anchor="end" stroke="#000" stroke-width="0.30">−8</text>
<text x="0" y="0" transform="translate(307.40,76.74) scale(1.100,1)" style="font-family:'Liberation Serif',serif;font-size:7.30px" text-anchor="end" stroke="#000" stroke-width="0.30">−4</text>
<text x="0" y="0" transform="translate(307.40,38.51) scale(1.100,1)" style="font-family:'Liberation Serif',serif;font-size:7.30px" text-anchor="end" stroke="#000" stroke-width="0.30">0</text>
<text x="427.00" y="10.50" style="font-family:'Liberation Serif',serif;font-size:9.40px;font-weight:bold" text-anchor="middle" textLength="65.5" lengthAdjust="spacingAndGlyphs">Estimated error</text>
<text x="427.00" y="173.60" style="font-family:'Liberation Serif',serif;font-size:9.60px;font-weight:bold" text-anchor="middle" textLength="60.0" lengthAdjust="spacingAndGlyphs">Cycle number</text>
<text x="0" y="0" transform="translate(292.30,84.40) rotate(-90)" style="font-family:'Liberation Serif',serif;font-size:9px;font-weight:bold" text-anchor="middle" textLength="38" lengthAdjust="spacingAndGlyphs">Error (%)</text>
<rect x="474.80" y="121.10" width="61.60" height="24.60" fill="#fff" stroke="#333" stroke-width="1"/>
<line x1="475.60" y1="128.00" x2="497.30" y2="128.00" stroke="#0f6aa8" stroke-width="1.8"/>
<circle cx="486.60" cy="128.00" r="2" fill="#0f6aa8"/>
<text x="497.50" y="130.60" style="font-family:'Liberation Serif',serif;font-size:8.00px;font-weight:bold" text-anchor="start">Before TL</text>
<line x1="475.60" y1="139.50" x2="497.30" y2="139.50" stroke="#f7b900" stroke-width="1.8"/>
<circle cx="486.60" cy="139.50" r="2" fill="#f7b900"/>
<text x="497.50" y="142.10" style="font-family:'Liberation Serif',serif;font-size:8.00px;font-weight:bold" text-anchor="start">After TL</text>
<line x1="82.40" y1="212.50" x2="82.40" y2="346.40" stroke="#9a9a9a" stroke-width="1.3"/>
<line x1="127.80" y1="212.50" x2="127.80" y2="346.40" stroke="#9a9a9a" stroke-width="1.3"/>
<line x1="173.20" y1="212.50" x2="173.20" y2="346.40" stroke="#9a9a9a" stroke-width="1.3"/>
<line x1="218.60" y1="212.50" x2="218.60" y2="346.40" stroke="#9a9a9a" stroke-width="1.3"/>
<line x1="37.00" y1="325.80" x2="264.00" y2="325.80" stroke="#9a9a9a" stroke-width="1.3"/>
<line x1="37.00" y1="305.20" x2="264.00" y2="305.20" stroke="#9a9a9a" stroke-width="1.3"/>
<line x1="37.00" y1="284.60" x2="264.00" y2="284.60" stroke="#9a9a9a" stroke-width="1.3"/>
<line x1="37.00" y1="264.00" x2="264.00" y2="264.00" stroke="#9a9a9a" stroke-width="1.3"/>
<line x1="37.00" y1="243.40" x2="264.00" y2="243.40" stroke="#9a9a9a" stroke-width="1.3"/>
<line x1="37.00" y1="222.80" x2="264.00" y2="222.80" stroke="#9a9a9a" stroke-width="1.3"/>
<polyline points="37.00,224.04 41.54,228.84 46.08,230.59 50.62,233.07 55.16,234.53 59.70,236.53 64.24,238.63 68.78,239.81 73.32,241.91 77.86,243.63 82.40,244.98 86.94,247.18 91.48,248.59 96.02,250.22 100.56,254.10 105.10,256.96 109.64,259.65 114.18,262.31 118.72,262.93 123.26,264.51 127.80,265.57 132.34,266.59 136.88,268.55 141.42,269.66 145.96,271.13 150.50,273.07 155.04,274.16 159.58,276.01 164.12,277.67 168.66,278.64 173.20,280.59 177.74,282.15 182.28,283.67 186.82,286.05 191.36,287.52 195.90,289.50 200.44,291.03 204.98,291.61 209.52,293.02 214.06,294.09 218.60,294.60 223.14,295.71 227.68,296.07 232.22,296.56 236.76,299.18" fill="none" stroke="#f21212" stroke-width="1.6" stroke-linejoin="round"/>
<circle cx="37.00" cy="224.04" r="1.9" fill="#f21212"/>
<circle cx="41.54" cy="228.84" r="1.9" fill="#f21212"/>
<circle cx="46.08" cy="230.59" r="1.9" fill="#f21212"/>
<circle cx="50.62" cy="233.07" r="1.9" fill="#f21212"/>
<circle cx="55.16" cy="234.53" r="1.9" fill="#f21212"/>
<circle cx="59.70" cy="236.53" r="1.9" fill="#f21212"/>
<circle cx="64.24" cy="238.63" r="1.9" fill="#f21212"/>
<circle cx="68.78" cy="239.81" r="1.9" fill="#f21212"/>
<circle cx="73.32" cy="241.91" r="1.9" fill="#f21212"/>
<circle cx="77.86" cy="243.63" r="1.9" fill="#f21212"/>
<circle cx="82.40" cy="244.98" r="1.9" fill="#f21212"/>
<circle cx="86.94" cy="247.18" r="1.9" fill="#f21212"/>
<circle cx="91.48" cy="248.59" r="1.9" fill="#f21212"/>
<circle cx="96.02" cy="250.22" r="1.9" fill="#f21212"/>
<circle cx="100.56" cy="254.10" r="1.9" fill="#f21212"/>
<circle cx="105.10" cy="256.96" r="1.9" fill="#f21212"/>
<circle cx="109.64" cy="259.65" r="1.9" fill="#f21212"/>
<circle cx="114.18" cy="262.31" r="1.9" fill="#f21212"/>
<circle cx="118.72" cy="262.93" r="1.9" fill="#f21212"/>
<circle cx="123.26" cy="264.51" r="1.9" fill="#f21212"/>
<circle cx="127.80" cy="265.57" r="1.9" fill="#f21212"/>
<circle cx="132.34" cy="266.59" r="1.9" fill="#f21212"/>
<circle cx="136.88" cy="268.55" r="1.9" fill="#f21212"/>
<circle cx="141.42" cy="269.66" r="1.9" fill="#f21212"/>
<circle cx="145.96" cy="271.13" r="1.9" fill="#f21212"/>
<circle cx="150.50" cy="273.07" r="1.9" fill="#f21212"/>
<circle cx="155.04" cy="274.16" r="1.9" fill="#f21212"/>
<circle cx="159.58" cy="276.01" r="1.9" fill="#f21212"/>
<circle cx="164.12" cy="277.67" r="1.9" fill="#f21212"/>
<circle cx="168.66" cy="278.64" r="1.9" fill="#f21212"/>
<circle cx="173.20" cy="280.59" r="1.9" fill="#f21212"/>
<circle cx="177.74" cy="282.15" r="1.9" fill="#f21212"/>
<circle cx="182.28" cy="283.67" r="1.9" fill="#f21212"/>
<circle cx="186.82" cy="286.05" r="1.9" fill="#f21212"/>
<circle cx="191.36" cy="287.52" r="1.9" fill="#f21212"/>
<circle cx="195.90" cy="289.50" r="1.9" fill="#f21212"/>
<circle cx="200.44" cy="291.03" r="1.9" fill="#f21212"/>
<circle cx="204.98" cy="291.61" r="1.9" fill="#f21212"/>
<circle cx="209.52" cy="293.02" r="1.9" fill="#f21212"/>
<circle cx="214.06" cy="294.09" r="1.9" fill="#f21212"/>
<circle cx="218.60" cy="294.60" r="1.9" fill="#f21212"/>
<circle cx="223.14" cy="295.71" r="1.9" fill="#f21212"/>
<circle cx="227.68" cy="296.07" r="1.9" fill="#f21212"/>
<circle cx="232.22" cy="296.56" r="1.9" fill="#f21212"/>
<circle cx="236.76" cy="299.18" r="1.9" fill="#f21212"/>
<polyline points="37.00,245.05 41.54,254.84 46.08,257.52 50.62,258.99 55.16,264.15 59.70,269.93 64.24,271.94 68.78,275.03 73.32,278.07 77.86,280.31 82.40,283.77 86.94,285.21 91.48,286.43 96.02,288.58 100.56,289.47 105.10,290.95 109.64,293.95 114.18,295.89 118.72,299.01 123.26,301.86 127.80,304.07 132.34,305.92 136.88,306.74 141.42,307.55 145.96,309.16 150.50,309.49 155.04,310.97 159.58,312.70 164.12,313.12 168.66,314.80 173.20,316.01 177.74,316.81 182.28,318.75 186.82,319.54 191.36,320.52 195.90,322.15 200.44,322.27 204.98,323.32 209.52,324.44 214.06,324.71 218.60,326.28 223.14,327.73 227.68,328.89 232.22,328.84 236.76,331.26" fill="none" stroke="#0f6aa8" stroke-width="1.6" stroke-linejoin="round"/>
<circle cx="37.00" cy="245.05" r="1.9" fill="#0f6aa8"/>
<circle cx="41.54" cy="254.84" r="1.9" fill="#0f6aa8"/>
<circle cx="46.08" cy="257.52" r="1.9" fill="#0f6aa8"/>
<circle cx="50.62" cy="258.99" r="1.9" fill="#0f6aa8"/>
<circle cx="55.16" cy="264.15" r="1.9" fill="#0f6aa8"/>
<circle cx="59.70" cy="269.93" r="1.9" fill="#0f6aa8"/>
<circle cx="64.24" cy="271.94" r="1.9" fill="#0f6aa8"/>
<circle cx="68.78" cy="275.03" r="1.9" fill="#0f6aa8"/>
<circle cx="73.32" cy="278.07" r="1.9" fill="#0f6aa8"/>
<circle cx="77.86" cy="280.31" r="1.9" fill="#0f6aa8"/>
<circle cx="82.40" cy="283.77" r="1.9" fill="#0f6aa8"/>
<circle cx="86.94" cy="285.21" r="1.9" fill="#0f6aa8"/>
<circle cx="91.48" cy="286.43" r="1.9" fill="#0f6aa8"/>
<circle cx="96.02" cy="288.58" r="1.9" fill="#0f6aa8"/>
<circle cx="100.56" cy="289.47" r="1.9" fill="#0f6aa8"/>
<circle cx="105.10" cy="290.95" r="1.9" fill="#0f6aa8"/>
<circle cx="109.64" cy="293.95" r="1.9" fill="#0f6aa8"/>
<circle cx="114.18" cy="295.89" r="1.9" fill="#0f6aa8"/>
<circle cx="118.72" cy="299.01" r="1.9" fill="#0f6aa8"/>
<circle cx="123.26" cy="301.86" r="1.9" fill="#0f6aa8"/>
<circle cx="127.80" cy="304.07" r="1.9" fill="#0f6aa8"/>
<circle cx="132.34" cy="305.92" r="1.9" fill="#0f6aa8"/>
<circle cx="136.88" cy="306.74" r="1.9" fill="#0f6aa8"/>
<circle cx="141.42" cy="307.55" r="1.9" fill="#0f6aa8"/>
<circle cx="145.96" cy="309.16" r="1.9" fill="#0f6aa8"/>
<circle cx="150.50" cy="309.49" r="1.9" fill="#0f6aa8"/>
<circle cx="155.04" cy="310.97" r="1.9" fill="#0f6aa8"/>
<circle cx="159.58" cy="312.70" r="1.9" fill="#0f6aa8"/>
<circle cx="164.12" cy="313.12" r="1.9" fill="#0f6aa8"/>
<circle cx="168.66" cy="314.80" r="1.9" fill="#0f6aa8"/>
<circle cx="173.20" cy="316.01" r="1.9" fill="#0f6aa8"/>
<circle cx="177.74" cy="316.81" r="1.9" fill="#0f6aa8"/>
<circle cx="182.28" cy="318.75" r="1.9" fill="#0f6aa8"/>
<circle cx="186.82" cy="319.54" r="1.9" fill="#0f6aa8"/>
<circle cx="191.36" cy="320.52" r="1.9" fill="#0f6aa8"/>
<circle cx="195.90" cy="322.15" r="1.9" fill="#0f6aa8"/>
<circle cx="200.44" cy="322.27" r="1.9" fill="#0f6aa8"/>
<circle cx="204.98" cy="323.32" r="1.9" fill="#0f6aa8"/>
<circle cx="209.52" cy="324.44" r="1.9" fill="#0f6aa8"/>
<circle cx="214.06" cy="324.71" r="1.9" fill="#0f6aa8"/>
<circle cx="218.60" cy="326.28" r="1.9" fill="#0f6aa8"/>
<circle cx="223.14" cy="327.73" r="1.9" fill="#0f6aa8"/>
<circle cx="227.68" cy="328.89" r="1.9" fill="#0f6aa8"/>
<circle cx="232.22" cy="328.84" r="1.9" fill="#0f6aa8"/>
<circle cx="236.76" cy="331.26" r="1.9" fill="#0f6aa8"/>
<polyline points="37.00,225.27 41.54,230.28 46.08,232.46 50.62,234.53 55.16,236.05 59.70,238.61 64.24,240.34 68.78,242.00 73.32,244.38 77.86,245.72 82.40,247.54 86.94,249.84 91.48,251.25 96.02,253.61 100.56,255.71 105.10,257.40 109.64,259.68 114.18,261.16 118.72,262.73 123.26,264.91 127.80,266.03 132.34,267.34 136.88,268.74 141.42,269.34 145.96,270.96 150.50,272.15 155.04,273.33 159.58,275.47 164.12,276.71 168.66,278.19 173.20,280.14 177.74,281.38 182.28,283.35 186.82,285.24 191.36,286.46 195.90,288.71 200.44,289.58 204.98,290.35 209.52,291.99 214.06,292.67 218.60,293.74 223.14,295.37 227.68,296.01 232.22,297.46 236.76,298.69" fill="none" stroke="#f7b900" stroke-width="1.6" stroke-linejoin="round"/>
<circle cx="37.00" cy="225.27" r="1.9" fill="#f7b900"/>
<circle cx="41.54" cy="230.28" r="1.9" fill="#f7b900"/>
<circle cx="46.08" cy="232.46" r="1.9" fill="#f7b900"/>
<circle cx="50.62" cy="234.53" r="1.9" fill="#f7b900"/>
<circle cx="55.16" cy="236.05" r="1.9" fill="#f7b900"/>
<circle cx="59.70" cy="238.61" r="1.9" fill="#f7b900"/>
<circle cx="64.24" cy="240.34" r="1.9" fill="#f7b900"/>
<circle cx="68.78" cy="242.00" r="1.9" fill="#f7b900"/>
<circle cx="73.32" cy="244.38" r="1.9" fill="#f7b900"/>
<circle cx="77.86" cy="245.72" r="1.9" fill="#f7b900"/>
<circle cx="82.40" cy="247.54" r="1.9" fill="#f7b900"/>
<circle cx="86.94" cy="249.84" r="1.9" fill="#f7b900"/>
<circle cx="91.48" cy="251.25" r="1.9" fill="#f7b900"/>
<circle cx="96.02" cy="253.61" r="1.9" fill="#f7b900"/>
<circle cx="100.56" cy="255.71" r="1.9" fill="#f7b900"/>
<circle cx="105.10" cy="257.40" r="1.9" fill="#f7b900"/>
<circle cx="109.64" cy="259.68" r="1.9" fill="#f7b900"/>
<circle cx="114.18" cy="261.16" r="1.9" fill="#f7b900"/>
<circle cx="118.72" cy="262.73" r="1.9" fill="#f7b900"/>
<circle cx="123.26" cy="264.91" r="1.9" fill="#f7b900"/>
<circle cx="127.80" cy="266.03" r="1.9" fill="#f7b900"/>
<circle cx="132.34" cy="267.34" r="1.9" fill="#f7b900"/>
<circle cx="136.88" cy="268.74" r="1.9" fill="#f7b900"/>
<circle cx="141.42" cy="269.34" r="1.9" fill="#f7b900"/>
<circle cx="145.96" cy="270.96" r="1.9" fill="#f7b900"/>
<circle cx="150.50" cy="272.15" r="1.9" fill="#f7b900"/>
<circle cx="155.04" cy="273.33" r="1.9" fill="#f7b900"/>
<circle cx="159.58" cy="275.47" r="1.9" fill="#f7b900"/>
<circle cx="164.12" cy="276.71" r="1.9" fill="#f7b900"/>
<circle cx="168.66" cy="278.19" r="1.9" fill="#f7b900"/>
<circle cx="173.20" cy="280.14" r="1.9" fill="#f7b900"/>
<circle cx="177.74" cy="281.38" r="1.9" fill="#f7b900"/>
<circle cx="182.28" cy="283.35" r="1.9" fill="#f7b900"/>
<circle cx="186.82" cy="285.24" r="1.9" fill="#f7b900"/>
<circle cx="191.36" cy="286.46" r="1.9" fill="#f7b900"/>
<circle cx="195.90" cy="288.71" r="1.9" fill="#f7b900"/>
<circle cx="200.44" cy="289.58" r="1.9" fill="#f7b900"/>
<circle cx="204.98" cy="290.35" r="1.9" fill="#f7b900"/>
<circle cx="209.52" cy="291.99" r="1.9" fill="#f7b900"/>
<circle cx="214.06" cy="292.67" r="1.9" fill="#f7b900"/>
<circle cx="218.60" cy="293.74" r="1.9" fill="#f7b900"/>
<circle cx="223.14" cy="295.37" r="1.9" fill="#f7b900"/>
<circle cx="227.68" cy="296.01" r="1.9" fill="#f7b900"/>
<circle cx="232.22" cy="297.46" r="1.9" fill="#f7b900"/>
<circle cx="236.76" cy="298.69" r="1.9" fill="#f7b900"/>
<rect x="37.00" y="212.50" width="227.00" height="133.90" fill="none" stroke="#000" stroke-width="1.6"/>
<line x1="37.00" y1="346.40" x2="37.00" y2="348.40" stroke="#000" stroke-width="1.2"/>
<line x1="37.00" y1="212.50" x2="37.00" y2="210.50" stroke="#000" stroke-width="1.2"/>
<line x1="82.40" y1="346.40" x2="82.40" y2="348.40" stroke="#000" stroke-width="1.2"/>
<line x1="82.40" y1="212.50" x2="82.40" y2="210.50" stroke="#000" stroke-width="1.2"/>
<line x1="127.80" y1="346.40" x2="127.80" y2="348.40" stroke="#000" stroke-width="1.2"/>
<line x1="127.80" y1="212.50" x2="127.80" y2="210.50" stroke="#000" stroke-width="1.2"/>
<line x1="173.20" y1="346.40" x2="173.20" y2="348.40" stroke="#000" stroke-width="1.2"/>
<line x1="173.20" y1="212.50" x2="173.20" y2="210.50" stroke="#000" stroke-width="1.2"/>
<line x1="218.60" y1="346.40" x2="218.60" y2="348.40" stroke="#000" stroke-width="1.2"/>
<line x1="218.60" y1="212.50" x2="218.60" y2="210.50" stroke="#000" stroke-width="1.2"/>
<line x1="264.00" y1="346.40" x2="264.00" y2="348.40" stroke="#000" stroke-width="1.2"/>
<line x1="264.00" y1="212.50" x2="264.00" y2="210.50" stroke="#000" stroke-width="1.2"/>
<line x1="37.00" y1="346.40" x2="35.00" y2="346.40" stroke="#000" stroke-width="1.2"/>
<line x1="264.00" y1="346.40" x2="266.00" y2="346.40" stroke="#000" stroke-width="1.2"/>
<line x1="37.00" y1="325.80" x2="35.00" y2="325.80" stroke="#000" stroke-width="1.2"/>
<line x1="264.00" y1="325.80" x2="266.00" y2="325.80" stroke="#000" stroke-width="1.2"/>
<line x1="37.00" y1="305.20" x2="35.00" y2="305.20" stroke="#000" stroke-width="1.2"/>
<line x1="264.00" y1="305.20" x2="266.00" y2="305.20" stroke="#000" stroke-width="1.2"/>
<line x1="37.00" y1="284.60" x2="35.00" y2="284.60" stroke="#000" stroke-width="1.2"/>
<line x1="264.00" y1="284.60" x2="266.00" y2="284.60" stroke="#000" stroke-width="1.2"/>
<line x1="37.00" y1="264.00" x2="35.00" y2="264.00" stroke="#000" stroke-width="1.2"/>
<line x1="264.00" y1="264.00" x2="266.00" y2="264.00" stroke="#000" stroke-width="1.2"/>
<line x1="37.00" y1="243.40" x2="35.00" y2="243.40" stroke="#000" stroke-width="1.2"/>
<line x1="264.00" y1="243.40" x2="266.00" y2="243.40" stroke="#000" stroke-width="1.2"/>
<line x1="37.00" y1="222.80" x2="35.00" y2="222.80" stroke="#000" stroke-width="1.2"/>
<line x1="264.00" y1="222.80" x2="266.00" y2="222.80" stroke="#000" stroke-width="1.2"/>
<line x1="59.70" y1="346.40" x2="59.70" y2="344.80" stroke="#000" stroke-width="1"/>
<line x1="59.70" y1="212.50" x2="59.70" y2="214.10" stroke="#000" stroke-width="1"/>
<line x1="105.10" y1="346.40" x2="105.10" y2="344.80" stroke="#000" stroke-width="1"/>
<line x1="105.10" y1="212.50" x2="105.10" y2="214.10" stroke="#000" stroke-width="1"/>
<line x1="150.50" y1="346.40" x2="150.50" y2="344.80" stroke="#000" stroke-width="1"/>
<line x1="150.50" y1="212.50" x2="150.50" y2="214.10" stroke="#000" stroke-width="1"/>
<line x1="195.90" y1="346.40" x2="195.90" y2="344.80" stroke="#000" stroke-width="1"/>
<line x1="195.90" y1="212.50" x2="195.90" y2="214.10" stroke="#000" stroke-width="1"/>
<line x1="241.30" y1="346.40" x2="241.30" y2="344.80" stroke="#000" stroke-width="1"/>
<line x1="241.30" y1="212.50" x2="241.30" y2="214.10" stroke="#000" stroke-width="1"/>
<line x1="37.00" y1="336.10" x2="38.60" y2="336.10" stroke="#000" stroke-width="1"/>
<line x1="264.00" y1="336.10" x2="262.40" y2="336.10" stroke="#000" stroke-width="1"/>
<line x1="37.00" y1="315.50" x2="38.60" y2="315.50" stroke="#000" stroke-width="1"/>
<line x1="264.00" y1="315.50" x2="262.40" y2="315.50" stroke="#000" stroke-width="1"/>
<line x1="37.00" y1="294.90" x2="38.60" y2="294.90" stroke="#000" stroke-width="1"/>
<line x1="264.00" y1="294.90" x2="262.40" y2="294.90" stroke="#000" stroke-width="1"/>
<line x1="37.00" y1="274.30" x2="38.60" y2="274.30" stroke="#000" stroke-width="1"/>
<line x1="264.00" y1="274.30" x2="262.40" y2="274.30" stroke="#000" stroke-width="1"/>
<line x1="37.00" y1="253.70" x2="38.60" y2="253.70" stroke="#000" stroke-width="1"/>
<line x1="264.00" y1="253.70" x2="262.40" y2="253.70" stroke="#000" stroke-width="1"/>
<line x1="37.00" y1="233.10" x2="38.60" y2="233.10" stroke="#000" stroke-width="1"/>
<line x1="264.00" y1="233.10" x2="262.40" y2="233.10" stroke="#000" stroke-width="1"/>
<text x="0" y="0" transform="translate(37.00,356.10) scale(1.100,1)" style="font-family:'Liberation Serif',serif;font-size:7.30px" text-anchor="middle" stroke="#000" stroke-width="0.30">0</text>
<text x="0" y="0" transform="translate(82.40,356.10) scale(1.100,1)" style="font-family:'Liberation Serif',serif;font-size:7.30px" text-anchor="middle" stroke="#000" stroke-width="0.30">10</text>
<text x="0" y="0" transform="translate(127.80,356.10) scale(1.100,1)" style="font-family:'Liberation Serif',serif;font-size:7.30px" text-anchor="middle" stroke="#000" stroke-width="0.30">20</text>
<text x="0" y="0" transform="translate(173.20,356.10) scale(1.100,1)" style="font-family:'Liberation Serif',serif;font-size:7.30px" text-anchor="middle" stroke="#000" stroke-width="0.30">30</text>
<text x="0" y="0" transform="translate(218.60,356.10) scale(1.100,1)" style="font-family:'Liberation Serif',serif;font-size:7.30px" text-anchor="middle" stroke="#000" stroke-width="0.30">40</text>
<text x="0" y="0" transform="translate(264.00,356.10) scale(1.100,1)" style="font-family:'Liberation Serif',serif;font-size:7.30px" text-anchor="middle" stroke="#000" stroke-width="0.30">50</text>
<text x="0" y="0" transform="translate(32.70,348.30) scale(1.100,1)" style="font-family:'Liberation Serif',serif;font-size:7.30px" text-anchor="end" stroke="#000" stroke-width="0.30">0.70</text>
<text x="0" y="0" transform="translate(32.70,327.70) scale(1.100,1)" style="font-family:'Liberation Serif',serif;font-size:7.30px" text-anchor="end" stroke="#000" stroke-width="0.30">0.75</text>
<text x="0" y="0" transform="translate(32.70,307.10) scale(1.100,1)" style="font-family:'Liberation Serif',serif;font-size:7.30px" text-anchor="end" stroke="#000" stroke-width="0.30">0.80</text>
<text x="0" y="0" transform="translate(32.70,286.50) scale(1.100,1)" style="font-family:'Liberation Serif',serif;font-size:7.30px" text-anchor="end" stroke="#000" stroke-width="0.30">0.85</text>
<text x="0" y="0" transform="translate(32.70,265.90) scale(1.100,1)" style="font-family:'Liberation Serif',serif;font-size:7.30px" text-anchor="end" stroke="#000" stroke-width="0.30">0.90</text>
<text x="0" y="0" transform="translate(32.70,245.30) scale(1.100,1)" style="font-family:'Liberation Serif',serif;font-size:7.30px" text-anchor="end" stroke="#000" stroke-width="0.30">0.95</text>
<text x="0" y="0" transform="translate(32.70,224.70) scale(1.100,1)" style="font-family:'Liberation Serif',serif;font-size:7.30px" text-anchor="end" stroke="#000" stroke-width="0.30">1.00</text>
<text x="150.50" y="205.50" style="font-family:'Liberation Serif',serif;font-size:9.40px;font-weight:bold" text-anchor="middle" textLength="24.0" lengthAdjust="spacingAndGlyphs">Cell 2</text>
<text x="150.50" y="368.70" style="font-family:'Liberation Serif',serif;font-size:9.60px;font-weight:bold" text-anchor="middle" textLength="60.0" lengthAdjust="spacingAndGlyphs">Cycle number</text>
<text x="0" y="0" transform="translate(12.20,279.45) rotate(-90)" style="font-family:'Liberation Sans',sans-serif;font-size:9px;font-weight:bold" text-anchor="middle" textLength="20.5" lengthAdjust="spacingAndGlyphs">SOH</text>
<rect x="151.50" y="220.50" width="68.40" height="36.60" fill="#fff" stroke="#333" stroke-width="1"/>
<line x1="152.30" y1="227.00" x2="174.00" y2="227.00" stroke="#f21212" stroke-width="1.8"/>
<circle cx="163.30" cy="227.00" r="2" fill="#f21212"/>
<text x="176.30" y="229.60" style="font-family:'Liberation Serif',serif;font-size:8.00px;font-weight:bold" text-anchor="start">Real value</text>
<line x1="152.30" y1="238.70" x2="174.00" y2="238.70" stroke="#0f6aa8" stroke-width="1.8"/>
<circle cx="163.30" cy="238.70" r="2" fill="#0f6aa8"/>
<text x="174.50" y="241.30" style="font-family:'Liberation Serif',serif;font-size:8.00px;font-weight:bold" text-anchor="start">Before TL</text>
<line x1="152.30" y1="250.20" x2="174.00" y2="250.20" stroke="#f7b900" stroke-width="1.8"/>
<circle cx="163.30" cy="250.20" r="2" fill="#f7b900"/>
<text x="175.40" y="252.80" style="font-family:'Liberation Serif',serif;font-size:8.00px;font-weight:bold" text-anchor="start">After TL</text>
<line x1="337.34" y1="212.50" x2="337.34" y2="346.40" stroke="#9a9a9a" stroke-width="1.3"/>
<line x1="362.99" y1="212.50" x2="362.99" y2="346.40" stroke="#9a9a9a" stroke-width="1.3"/>
<line x1="388.63" y1="212.50" x2="388.63" y2="346.40" stroke="#9a9a9a" stroke-width="1.3"/>
<line x1="414.28" y1="212.50" x2="414.28" y2="346.40" stroke="#9a9a9a" stroke-width="1.3"/>
<line x1="439.92" y1="212.50" x2="439.92" y2="346.40" stroke="#9a9a9a" stroke-width="1.3"/>
<line x1="465.57" y1="212.50" x2="465.57" y2="346.40" stroke="#9a9a9a" stroke-width="1.3"/>
<line x1="491.21" y1="212.50" x2="491.21" y2="346.40" stroke="#9a9a9a" stroke-width="1.3"/>
<line x1="516.86" y1="212.50" x2="516.86" y2="346.40" stroke="#9a9a9a" stroke-width="1.3"/>
<line x1="311.70" y1="308.14" x2="542.50" y2="308.14" stroke="#9a9a9a" stroke-width="1.3"/>
<line x1="311.70" y1="269.89" x2="542.50" y2="269.89" stroke="#9a9a9a" stroke-width="1.3"/>
<line x1="311.70" y1="231.63" x2="542.50" y2="231.63" stroke="#9a9a9a" stroke-width="1.3"/>
<polyline points="311.70,272.75 316.83,286.14 321.96,289.01 327.09,289.49 332.22,294.75 337.34,299.53 342.47,301.45 347.60,306.23 352.73,311.01 357.86,313.88 362.99,315.32 368.12,315.32 373.25,316.75 378.38,316.27 383.50,317.71 388.63,317.71 393.76,319.14 398.89,317.71 404.02,317.23 409.15,319.14 414.28,317.71 419.41,318.66 424.54,316.75 429.66,316.75 434.79,317.23 439.92,314.84 445.05,316.75 450.18,314.84 455.31,316.75 460.44,315.79 465.57,314.36 470.70,312.92 475.82,310.06 480.95,311.97 486.08,313.88 491.21,310.53 496.34,309.10 501.47,309.10 506.60,308.62 511.73,309.10 516.86,308.62 521.98,308.14 527.11,308.62 532.24,305.75 537.37,308.14" fill="none" stroke="#0f6aa8" stroke-width="1.6" stroke-linejoin="round"/>
<circle cx="311.70" cy="272.75" r="1.9" fill="#0f6aa8"/>
<circle cx="316.83" cy="286.14" r="1.9" fill="#0f6aa8"/>
<circle cx="321.96" cy="289.01" r="1.9" fill="#0f6aa8"/>
<circle cx="327.09" cy="289.49" r="1.9" fill="#0f6aa8"/>
<circle cx="332.22" cy="294.75" r="1.9" fill="#0f6aa8"/>
<circle cx="337.34" cy="299.53" r="1.9" fill="#0f6aa8"/>
<circle cx="342.47" cy="301.45" r="1.9" fill="#0f6aa8"/>
<circle cx="347.60" cy="306.23" r="1.9" fill="#0f6aa8"/>
<circle cx="352.73" cy="311.01" r="1.9" fill="#0f6aa8"/>
<circle cx="357.86" cy="313.88" r="1.9" fill="#0f6aa8"/>
<circle cx="362.99" cy="315.32" r="1.9" fill="#0f6aa8"/>
<circle cx="368.12" cy="315.32" r="1.9" fill="#0f6aa8"/>
<circle cx="373.25" cy="316.75" r="1.9" fill="#0f6aa8"/>
<circle cx="378.38" cy="316.27" r="1.9" fill="#0f6aa8"/>
<circle cx="383.50" cy="317.71" r="1.9" fill="#0f6aa8"/>
<circle cx="388.63" cy="317.71" r="1.9" fill="#0f6aa8"/>
<circle cx="393.76" cy="319.14" r="1.9" fill="#0f6aa8"/>
<circle cx="398.89" cy="317.71" r="1.9" fill="#0f6aa8"/>
<circle cx="404.02" cy="317.23" r="1.9" fill="#0f6aa8"/>
<circle cx="409.15" cy="319.14" r="1.9" fill="#0f6aa8"/>
<circle cx="414.28" cy="317.71" r="1.9" fill="#0f6aa8"/>
<circle cx="419.41" cy="318.66" r="1.9" fill="#0f6aa8"/>
<circle cx="424.54" cy="316.75" r="1.9" fill="#0f6aa8"/>
<circle cx="429.66" cy="316.75" r="1.9" fill="#0f6aa8"/>
<circle cx="434.79" cy="317.23" r="1.9" fill="#0f6aa8"/>
<circle cx="439.92" cy="314.84" r="1.9" fill="#0f6aa8"/>
<circle cx="445.05" cy="316.75" r="1.9" fill="#0f6aa8"/>
<circle cx="450.18" cy="314.84" r="1.9" fill="#0f6aa8"/>
<circle cx="455.31" cy="316.75" r="1.9" fill="#0f6aa8"/>
<circle cx="460.44" cy="315.79" r="1.9" fill="#0f6aa8"/>
<circle cx="465.57" cy="314.36" r="1.9" fill="#0f6aa8"/>
<circle cx="470.70" cy="312.92" r="1.9" fill="#0f6aa8"/>
<circle cx="475.82" cy="310.06" r="1.9" fill="#0f6aa8"/>
<circle cx="480.95" cy="311.97" r="1.9" fill="#0f6aa8"/>
<circle cx="486.08" cy="313.88" r="1.9" fill="#0f6aa8"/>
<circle cx="491.21" cy="310.53" r="1.9" fill="#0f6aa8"/>
<circle cx="496.34" cy="309.10" r="1.9" fill="#0f6aa8"/>
<circle cx="501.47" cy="309.10" r="1.9" fill="#0f6aa8"/>
<circle cx="506.60" cy="308.62" r="1.9" fill="#0f6aa8"/>
<circle cx="511.73" cy="309.10" r="1.9" fill="#0f6aa8"/>
<circle cx="516.86" cy="308.62" r="1.9" fill="#0f6aa8"/>
<circle cx="521.98" cy="308.14" r="1.9" fill="#0f6aa8"/>
<circle cx="527.11" cy="308.62" r="1.9" fill="#0f6aa8"/>
<circle cx="532.24" cy="305.75" r="1.9" fill="#0f6aa8"/>
<circle cx="537.37" cy="308.14" r="1.9" fill="#0f6aa8"/>
<polyline points="311.70,226.37 316.83,232.58 321.96,234.98 327.09,234.50 332.22,234.98 337.34,235.93 342.47,235.93 347.60,235.45 352.73,237.37 357.86,236.89 362.99,236.89 368.12,236.41 373.25,235.93 378.38,235.45 383.50,234.98 388.63,234.50 393.76,233.54 398.89,231.63 404.02,233.06 409.15,230.67 414.28,232.58 419.41,232.58 424.54,231.63 429.66,232.11 434.79,230.67 439.92,231.63 445.05,232.11 450.18,228.28 455.31,231.15 460.44,232.58 465.57,231.63 470.70,229.72 475.82,230.19 480.95,227.32 486.08,230.67 491.21,232.58 496.34,227.32 501.47,230.67 506.60,230.67 511.73,229.24 516.86,230.19 521.98,230.67 527.11,229.24 532.24,228.76 537.37,231.15" fill="none" stroke="#f7b900" stroke-width="1.6" stroke-linejoin="round"/>
<circle cx="311.70" cy="226.37" r="1.9" fill="#f7b900"/>
<circle cx="316.83" cy="232.58" r="1.9" fill="#f7b900"/>
<circle cx="321.96" cy="234.98" r="1.9" fill="#f7b900"/>
<circle cx="327.09" cy="234.50" r="1.9" fill="#f7b900"/>
<circle cx="332.22" cy="234.98" r="1.9" fill="#f7b900"/>
<circle cx="337.34" cy="235.93" r="1.9" fill="#f7b900"/>
<circle cx="342.47" cy="235.93" r="1.9" fill="#f7b900"/>
<circle cx="347.60" cy="235.45" r="1.9" fill="#f7b900"/>
<circle cx="352.73" cy="237.37" r="1.9" fill="#f7b900"/>
<circle cx="357.86" cy="236.89" r="1.9" fill="#f7b900"/>
<circle cx="362.99" cy="236.89" r="1.9" fill="#f7b900"/>
<circle cx="368.12" cy="236.41" r="1.9" fill="#f7b900"/>
<circle cx="373.25" cy="235.93" r="1.9" fill="#f7b900"/>
<circle cx="378.38" cy="235.45" r="1.9" fill="#f7b900"/>
<circle cx="383.50" cy="234.98" r="1.9" fill="#f7b900"/>
<circle cx="388.63" cy="234.50" r="1.9" fill="#f7b900"/>
<circle cx="393.76" cy="233.54" r="1.9" fill="#f7b900"/>
<circle cx="398.89" cy="231.63" r="1.9" fill="#f7b900"/>
<circle cx="404.02" cy="233.06" r="1.9" fill="#f7b900"/>
<circle cx="409.15" cy="230.67" r="1.9" fill="#f7b900"/>
<circle cx="414.28" cy="232.58" r="1.9" fill="#f7b900"/>
<circle cx="419.41" cy="232.58" r="1.9" fill="#f7b900"/>
<circle cx="424.54" cy="231.63" r="1.9" fill="#f7b900"/>
<circle cx="429.66" cy="232.11" r="1.9" fill="#f7b900"/>
<circle cx="434.79" cy="230.67" r="1.9" fill="#f7b900"/>
<circle cx="439.92" cy="231.63" r="1.9" fill="#f7b900"/>
<circle cx="445.05" cy="232.11" r="1.9" fill="#f7b900"/>
<circle cx="450.18" cy="228.28" r="1.9" fill="#f7b900"/>
<circle cx="455.31" cy="231.15" r="1.9" fill="#f7b900"/>
<circle cx="460.44" cy="232.58" r="1.9" fill="#f7b900"/>
<circle cx="465.57" cy="231.63" r="1.9" fill="#f7b900"/>
<circle cx="470.70" cy="229.72" r="1.9" fill="#f7b900"/>
<circle cx="475.82" cy="230.19" r="1.9" fill="#f7b900"/>
<circle cx="480.95" cy="227.32" r="1.9" fill="#f7b900"/>
<circle cx="486.08" cy="230.67" r="1.9" fill="#f7b900"/>
<circle cx="491.21" cy="232.58" r="1.9" fill="#f7b900"/>
<circle cx="496.34" cy="227.32" r="1.9" fill="#f7b900"/>
<circle cx="501.47" cy="230.67" r="1.9" fill="#f7b900"/>
<circle cx="506.60" cy="230.67" r="1.9" fill="#f7b900"/>
<circle cx="511.73" cy="229.24" r="1.9" fill="#f7b900"/>
<circle cx="516.86" cy="230.19" r="1.9" fill="#f7b900"/>
<circle cx="521.98" cy="230.67" r="1.9" fill="#f7b900"/>
<circle cx="527.11" cy="229.24" r="1.9" fill="#f7b900"/>
<circle cx="532.24" cy="228.76" r="1.9" fill="#f7b900"/>
<circle cx="537.37" cy="231.15" r="1.9" fill="#f7b900"/>
<rect x="311.70" y="212.50" width="230.80" height="133.90" fill="none" stroke="#000" stroke-width="1.6"/>
<line x1="311.70" y1="346.40" x2="311.70" y2="348.40" stroke="#000" stroke-width="1.2"/>
<line x1="311.70" y1="212.50" x2="311.70" y2="210.50" stroke="#000" stroke-width="1.2"/>
<line x1="337.34" y1="346.40" x2="337.34" y2="348.40" stroke="#000" stroke-width="1.2"/>
<line x1="337.34" y1="212.50" x2="337.34" y2="210.50" stroke="#000" stroke-width="1.2"/>
<line x1="362.99" y1="346.40" x2="362.99" y2="348.40" stroke="#000" stroke-width="1.2"/>
<line x1="362.99" y1="212.50" x2="362.99" y2="210.50" stroke="#000" stroke-width="1.2"/>
<line x1="388.63" y1="346.40" x2="388.63" y2="348.40" stroke="#000" stroke-width="1.2"/>
<line x1="388.63" y1="212.50" x2="388.63" y2="210.50" stroke="#000" stroke-width="1.2"/>
<line x1="414.28" y1="346.40" x2="414.28" y2="348.40" stroke="#000" stroke-width="1.2"/>
<line x1="414.28" y1="212.50" x2="414.28" y2="210.50" stroke="#000" stroke-width="1.2"/>
<line x1="439.92" y1="346.40" x2="439.92" y2="348.40" stroke="#000" stroke-width="1.2"/>
<line x1="439.92" y1="212.50" x2="439.92" y2="210.50" stroke="#000" stroke-width="1.2"/>
<line x1="465.57" y1="346.40" x2="465.57" y2="348.40" stroke="#000" stroke-width="1.2"/>
<line x1="465.57" y1="212.50" x2="465.57" y2="210.50" stroke="#000" stroke-width="1.2"/>
<line x1="491.21" y1="346.40" x2="491.21" y2="348.40" stroke="#000" stroke-width="1.2"/>
<line x1="491.21" y1="212.50" x2="491.21" y2="210.50" stroke="#000" stroke-width="1.2"/>
<line x1="516.86" y1="346.40" x2="516.86" y2="348.40" stroke="#000" stroke-width="1.2"/>
<line x1="516.86" y1="212.50" x2="516.86" y2="210.50" stroke="#000" stroke-width="1.2"/>
<line x1="542.50" y1="346.40" x2="542.50" y2="348.40" stroke="#000" stroke-width="1.2"/>
<line x1="542.50" y1="212.50" x2="542.50" y2="210.50" stroke="#000" stroke-width="1.2"/>
<line x1="311.70" y1="346.40" x2="309.70" y2="346.40" stroke="#000" stroke-width="1.2"/>
<line x1="542.50" y1="346.40" x2="544.50" y2="346.40" stroke="#000" stroke-width="1.2"/>
<line x1="311.70" y1="308.14" x2="309.70" y2="308.14" stroke="#000" stroke-width="1.2"/>
<line x1="542.50" y1="308.14" x2="544.50" y2="308.14" stroke="#000" stroke-width="1.2"/>
<line x1="311.70" y1="269.89" x2="309.70" y2="269.89" stroke="#000" stroke-width="1.2"/>
<line x1="542.50" y1="269.89" x2="544.50" y2="269.89" stroke="#000" stroke-width="1.2"/>
<line x1="311.70" y1="231.63" x2="309.70" y2="231.63" stroke="#000" stroke-width="1.2"/>
<line x1="542.50" y1="231.63" x2="544.50" y2="231.63" stroke="#000" stroke-width="1.2"/>
<line x1="324.52" y1="346.40" x2="324.52" y2="344.80" stroke="#000" stroke-width="1"/>
<line x1="324.52" y1="212.50" x2="324.52" y2="214.10" stroke="#000" stroke-width="1"/>
<line x1="350.17" y1="346.40" x2="350.17" y2="344.80" stroke="#000" stroke-width="1"/>
<line x1="350.17" y1="212.50" x2="350.17" y2="214.10" stroke="#000" stroke-width="1"/>
<line x1="375.81" y1="346.40" x2="375.81" y2="344.80" stroke="#000" stroke-width="1"/>
<line x1="375.81" y1="212.50" x2="375.81" y2="214.10" stroke="#000" stroke-width="1"/>
<line x1="401.46" y1="346.40" x2="401.46" y2="344.80" stroke="#000" stroke-width="1"/>
<line x1="401.46" y1="212.50" x2="401.46" y2="214.10" stroke="#000" stroke-width="1"/>
<line x1="427.10" y1="346.40" x2="427.10" y2="344.80" stroke="#000" stroke-width="1"/>
<line x1="427.10" y1="212.50" x2="427.10" y2="214.10" stroke="#000" stroke-width="1"/>
<line x1="452.74" y1="346.40" x2="452.74" y2="344.80" stroke="#000" stroke-width="1"/>
<line x1="452.74" y1="212.50" x2="452.74" y2="214.10" stroke="#000" stroke-width="1"/>
<line x1="478.39" y1="346.40" x2="478.39" y2="344.80" stroke="#000" stroke-width="1"/>
<line x1="478.39" y1="212.50" x2="478.39" y2="214.10" stroke="#000" stroke-width="1"/>
<line x1="504.03" y1="346.40" x2="504.03" y2="344.80" stroke="#000" stroke-width="1"/>
<line x1="504.03" y1="212.50" x2="504.03" y2="214.10" stroke="#000" stroke-width="1"/>
<line x1="529.68" y1="346.40" x2="529.68" y2="344.80" stroke="#000" stroke-width="1"/>
<line x1="529.68" y1="212.50" x2="529.68" y2="214.10" stroke="#000" stroke-width="1"/>
<line x1="311.70" y1="327.27" x2="313.30" y2="327.27" stroke="#000" stroke-width="1"/>
<line x1="542.50" y1="327.27" x2="540.90" y2="327.27" stroke="#000" stroke-width="1"/>
<line x1="311.70" y1="289.01" x2="313.30" y2="289.01" stroke="#000" stroke-width="1"/>
<line x1="542.50" y1="289.01" x2="540.90" y2="289.01" stroke="#000" stroke-width="1"/>
<line x1="311.70" y1="250.76" x2="313.30" y2="250.76" stroke="#000" stroke-width="1"/>
<line x1="542.50" y1="250.76" x2="540.90" y2="250.76" stroke="#000" stroke-width="1"/>
<text x="0" y="0" transform="translate(311.70,356.10) scale(1.100,1)" style="font-family:'Liberation Serif',serif;font-size:7.30px" text-anchor="middle" stroke="#000" stroke-width="0.30">0</text>
<text x="0" y="0" transform="translate(337.34,356.10) scale(1.100,1)" style="font-family:'Liberation Serif',serif;font-size:7.30px" text-anchor="middle" stroke="#000" stroke-width="0.30">5</text>
<text x="0" y="0" transform="translate(362.99,356.10) scale(1.100,1)" style="font-family:'Liberation Serif',serif;font-size:7.30px" text-anchor="middle" stroke="#000" stroke-width="0.30">10</text>
<text x="0" y="0" transform="translate(388.63,356.10) scale(1.100,1)" style="font-family:'Liberation Serif',serif;font-size:7.30px" text-anchor="middle" stroke="#000" stroke-width="0.30">15</text>
<text x="0" y="0" transform="translate(414.28,356.10) scale(1.100,1)" style="font-family:'Liberation Serif',serif;font-size:7.30px" text-anchor="middle" stroke="#000" stroke-width="0.30">20</text>
<text x="0" y="0" transform="translate(439.92,356.10) scale(1.100,1)" style="font-family:'Liberation Serif',serif;font-size:7.30px" text-anchor="middle" stroke="#000" stroke-width="0.30">25</text>
<text x="0" y="0" transform="translate(465.57,356.10) scale(1.100,1)" style="font-family:'Liberation Serif',serif;font-size:7.30px" text-anchor="middle" stroke="#000" stroke-width="0.30">30</text>
<text x="0" y="0" transform="translate(491.21,356.10) scale(1.100,1)" style="font-family:'Liberation Serif',serif;font-size:7.30px" text-anchor="middle" stroke="#000" stroke-width="0.30">35</text>
<text x="0" y="0" transform="translate(516.86,356.10) scale(1.100,1)" style="font-family:'Liberation Serif',serif;font-size:7.30px" text-anchor="middle" stroke="#000" stroke-width="0.30">40</text>
<text x="0" y="0" transform="translate(542.50,356.10) scale(1.100,1)" style="font-family:'Liberation Serif',serif;font-size:7.30px" text-anchor="middle" stroke="#000" stroke-width="0.30">45</text>
<text x="0" y="0" transform="translate(307.40,348.30) scale(1.100,1)" style="font-family:'Liberation Serif',serif;font-size:7.30px" text-anchor="end" stroke="#000" stroke-width="0.30">−12</text>
<text x="0" y="0" transform="translate(307.40,310.04) scale(1.100,1)" style="font-family:'Liberation Serif',serif;font-size:7.30px" text-anchor="end" stroke="#000" stroke-width="0.30">−8</text>
<text x="0" y="0" transform="translate(307.40,271.79) scale(1.100,1)" style="font-family:'Liberation Serif',serif;font-size:7.30px" text-anchor="end" stroke="#000" stroke-width="0.30">−4</text>
<text x="0" y="0" transform="translate(307.40,233.53) scale(1.100,1)" style="font-family:'Liberation Serif',serif;font-size:7.30px" text-anchor="end" stroke="#000" stroke-width="0.30">0</text>
<text x="427.10" y="205.50" style="font-family:'Liberation Serif',serif;font-size:9.40px;font-weight:bold" text-anchor="middle" textLength="65.5" lengthAdjust="spacingAndGlyphs">Estimated error</text>
<text x="427.10" y="368.70" style="font-family:'Liberation Serif',serif;font-size:9.60px;font-weight:bold" text-anchor="middle" textLength="60.0" lengthAdjust="spacingAndGlyphs">Cycle number</text>
<text x="0" y="0" transform="translate(292.30,279.45) rotate(-90)" style="font-family:'Liberation Serif',serif;font-size:9px;font-weight:bold" text-anchor="middle" textLength="38" lengthAdjust="spacingAndGlyphs">Error (%)</text>
<rect x="474.20" y="316.20" width="61.60" height="24.60" fill="#fff" stroke="#333" stroke-width="1"/>
<line x1="475.00" y1="323.10" x2="496.70" y2="323.10" stroke="#0f6aa8" stroke-width="1.8"/>
<circle cx="486.00" cy="323.10" r="2" fill="#0f6aa8"/>
<text x="496.90" y="325.70" style="font-family:'Liberation Serif',serif;font-size:8.00px;font-weight:bold" text-anchor="start">Before TL</text>
<line x1="475.00" y1="334.60" x2="496.70" y2="334.60" stroke="#f7b900" stroke-width="1.8"/>
<circle cx="486.00" cy="334.60" r="2" fill="#f7b900"/>
<text x="496.90" y="337.20" style="font-family:'Liberation Serif',serif;font-size:8.00px;font-weight:bold" text-anchor="start">After TL</text>
<line x1="78.55" y1="406.70" x2="78.55" y2="541.10" stroke="#9a9a9a" stroke-width="1.3"/>
<line x1="120.09" y1="406.70" x2="120.09" y2="541.10" stroke="#9a9a9a" stroke-width="1.3"/>
<line x1="161.64" y1="406.70" x2="161.64" y2="541.10" stroke="#9a9a9a" stroke-width="1.3"/>
<line x1="203.18" y1="406.70" x2="203.18" y2="541.10" stroke="#9a9a9a" stroke-width="1.3"/>
<line x1="244.73" y1="406.70" x2="244.73" y2="541.10" stroke="#9a9a9a" stroke-width="1.3"/>
<line x1="37.00" y1="521.90" x2="265.50" y2="521.90" stroke="#9a9a9a" stroke-width="1.3"/>
<line x1="37.00" y1="502.70" x2="265.50" y2="502.70" stroke="#9a9a9a" stroke-width="1.3"/>
<line x1="37.00" y1="483.50" x2="265.50" y2="483.50" stroke="#9a9a9a" stroke-width="1.3"/>
<line x1="37.00" y1="464.30" x2="265.50" y2="464.30" stroke="#9a9a9a" stroke-width="1.3"/>
<line x1="37.00" y1="445.10" x2="265.50" y2="445.10" stroke="#9a9a9a" stroke-width="1.3"/>
<line x1="37.00" y1="425.90" x2="265.50" y2="425.90" stroke="#9a9a9a" stroke-width="1.3"/>
<polyline points="37.00,429.74 41.15,431.52 45.31,433.73 49.46,435.16 53.62,437.43 57.77,439.20 61.93,440.15 66.08,441.93 70.24,442.90 74.39,444.15 78.55,445.97 82.70,446.80 86.85,448.37 91.01,449.91 95.16,450.75 99.32,453.77 103.47,456.17 107.63,458.35 111.78,460.28 115.94,461.35 120.09,462.85 124.25,464.48 128.40,465.28 132.55,466.91 136.71,468.34 140.86,469.19 145.02,470.82 149.17,471.72 153.33,473.58 157.48,476.14 161.64,477.81 165.79,478.95 169.95,480.37 174.10,481.03 178.25,482.57 182.41,483.76 186.56,484.26 190.72,485.59 194.87,486.09 199.03,486.70 203.18,487.90 207.34,488.67 211.49,490.13 215.65,491.73 219.80,492.64 223.95,494.46 228.11,495.41 232.26,496.03 236.42,497.43 240.57,497.93 244.73,498.69 248.88,500.16 253.04,500.76" fill="none" stroke="#f21212" stroke-width="1.6" stroke-linejoin="round"/>
<circle cx="37.00" cy="429.74" r="1.9" fill="#f21212"/>
<circle cx="41.15" cy="431.52" r="1.9" fill="#f21212"/>
<circle cx="45.31" cy="433.73" r="1.9" fill="#f21212"/>
<circle cx="49.46" cy="435.16" r="1.9" fill="#f21212"/>
<circle cx="53.62" cy="437.43" r="1.9" fill="#f21212"/>
<circle cx="57.77" cy="439.20" r="1.9" fill="#f21212"/>
<circle cx="61.93" cy="440.15" r="1.9" fill="#f21212"/>
<circle cx="66.08" cy="441.93" r="1.9" fill="#f21212"/>
<circle cx="70.24" cy="442.90" r="1.9" fill="#f21212"/>
<circle cx="74.39" cy="444.15" r="1.9" fill="#f21212"/>
<circle cx="78.55" cy="445.97" r="1.9" fill="#f21212"/>
<circle cx="82.70" cy="446.80" r="1.9" fill="#f21212"/>
<circle cx="86.85" cy="448.37" r="1.9" fill="#f21212"/>
<circle cx="91.01" cy="449.91" r="1.9" fill="#f21212"/>
<circle cx="95.16" cy="450.75" r="1.9" fill="#f21212"/>
<circle cx="99.32" cy="453.77" r="1.9" fill="#f21212"/>
<circle cx="103.47" cy="456.17" r="1.9" fill="#f21212"/>
<circle cx="107.63" cy="458.35" r="1.9" fill="#f21212"/>
<circle cx="111.78" cy="460.28" r="1.9" fill="#f21212"/>
<circle cx="115.94" cy="461.35" r="1.9" fill="#f21212"/>
<circle cx="120.09" cy="462.85" r="1.9" fill="#f21212"/>
<circle cx="124.25" cy="464.48" r="1.9" fill="#f21212"/>
<circle cx="128.40" cy="465.28" r="1.9" fill="#f21212"/>
<circle cx="132.55" cy="466.91" r="1.9" fill="#f21212"/>
<circle cx="136.71" cy="468.34" r="1.9" fill="#f21212"/>
<circle cx="140.86" cy="469.19" r="1.9" fill="#f21212"/>
<circle cx="145.02" cy="470.82" r="1.9" fill="#f21212"/>
<circle cx="149.17" cy="471.72" r="1.9" fill="#f21212"/>
<circle cx="153.33" cy="473.58" r="1.9" fill="#f21212"/>
<circle cx="157.48" cy="476.14" r="1.9" fill="#f21212"/>
<circle cx="161.64" cy="477.81" r="1.9" fill="#f21212"/>
<circle cx="165.79" cy="478.95" r="1.9" fill="#f21212"/>
<circle cx="169.95" cy="480.37" r="1.9" fill="#f21212"/>
<circle cx="174.10" cy="481.03" r="1.9" fill="#f21212"/>
<circle cx="178.25" cy="482.57" r="1.9" fill="#f21212"/>
<circle cx="182.41" cy="483.76" r="1.9" fill="#f21212"/>
<circle cx="186.56" cy="484.26" r="1.9" fill="#f21212"/>
<circle cx="190.72" cy="485.59" r="1.9" fill="#f21212"/>
<circle cx="194.87" cy="486.09" r="1.9" fill="#f21212"/>
<circle cx="199.03" cy="486.70" r="1.9" fill="#f21212"/>
<circle cx="203.18" cy="487.90" r="1.9" fill="#f21212"/>
<circle cx="207.34" cy="488.67" r="1.9" fill="#f21212"/>
<circle cx="211.49" cy="490.13" r="1.9" fill="#f21212"/>
<circle cx="215.65" cy="491.73" r="1.9" fill="#f21212"/>
<circle cx="219.80" cy="492.64" r="1.9" fill="#f21212"/>
<circle cx="223.95" cy="494.46" r="1.9" fill="#f21212"/>
<circle cx="228.11" cy="495.41" r="1.9" fill="#f21212"/>
<circle cx="232.26" cy="496.03" r="1.9" fill="#f21212"/>
<circle cx="236.42" cy="497.43" r="1.9" fill="#f21212"/>
<circle cx="240.57" cy="497.93" r="1.9" fill="#f21212"/>
<circle cx="244.73" cy="498.69" r="1.9" fill="#f21212"/>
<circle cx="248.88" cy="500.16" r="1.9" fill="#f21212"/>
<circle cx="253.04" cy="500.76" r="1.9" fill="#f21212"/>
<polyline points="37.00,445.10 41.15,452.12 45.31,454.84 49.46,458.53 53.62,462.40 57.77,465.65 61.93,468.65 66.08,470.89 70.24,473.13 74.39,476.24 78.55,478.16 82.70,479.98 86.85,482.03 91.01,483.01 95.16,485.05 99.32,488.26 103.47,491.00 107.63,493.30 111.78,494.71 115.94,496.30 120.09,498.61 124.25,499.01 128.40,500.11 132.55,501.25 136.71,501.43 140.86,502.74 145.02,503.94 149.17,504.85 153.33,507.21 157.48,508.57 161.64,510.29 165.79,512.83 169.95,514.18 174.10,514.82 178.25,515.32 182.41,514.99 186.56,516.20 190.72,516.73 194.87,517.17 199.03,518.64 203.18,519.04 207.34,520.12 211.49,521.59 215.65,521.90 219.80,523.16 223.95,524.08 228.11,524.33 232.26,525.75 236.42,526.35 240.57,527.05 244.73,528.66 248.88,528.62 253.04,529.27" fill="none" stroke="#0f6aa8" stroke-width="1.6" stroke-linejoin="round"/>
<circle cx="37.00" cy="445.10" r="1.9" fill="#0f6aa8"/>
<circle cx="41.15" cy="452.12" r="1.9" fill="#0f6aa8"/>
<circle cx="45.31" cy="454.84" r="1.9" fill="#0f6aa8"/>
<circle cx="49.46" cy="458.53" r="1.9" fill="#0f6aa8"/>
<circle cx="53.62" cy="462.40" r="1.9" fill="#0f6aa8"/>
<circle cx="57.77" cy="465.65" r="1.9" fill="#0f6aa8"/>
<circle cx="61.93" cy="468.65" r="1.9" fill="#0f6aa8"/>
<circle cx="66.08" cy="470.89" r="1.9" fill="#0f6aa8"/>
<circle cx="70.24" cy="473.13" r="1.9" fill="#0f6aa8"/>
<circle cx="74.39" cy="476.24" r="1.9" fill="#0f6aa8"/>
<circle cx="78.55" cy="478.16" r="1.9" fill="#0f6aa8"/>
<circle cx="82.70" cy="479.98" r="1.9" fill="#0f6aa8"/>
<circle cx="86.85" cy="482.03" r="1.9" fill="#0f6aa8"/>
<circle cx="91.01" cy="483.01" r="1.9" fill="#0f6aa8"/>
<circle cx="95.16" cy="485.05" r="1.9" fill="#0f6aa8"/>
<circle cx="99.32" cy="488.26" r="1.9" fill="#0f6aa8"/>
<circle cx="103.47" cy="491.00" r="1.9" fill="#0f6aa8"/>
<circle cx="107.63" cy="493.30" r="1.9" fill="#0f6aa8"/>
<circle cx="111.78" cy="494.71" r="1.9" fill="#0f6aa8"/>
<circle cx="115.94" cy="496.30" r="1.9" fill="#0f6aa8"/>
<circle cx="120.09" cy="498.61" r="1.9" fill="#0f6aa8"/>
<circle cx="124.25" cy="499.01" r="1.9" fill="#0f6aa8"/>
<circle cx="128.40" cy="500.11" r="1.9" fill="#0f6aa8"/>
<circle cx="132.55" cy="501.25" r="1.9" fill="#0f6aa8"/>
<circle cx="136.71" cy="501.43" r="1.9" fill="#0f6aa8"/>
<circle cx="140.86" cy="502.74" r="1.9" fill="#0f6aa8"/>
<circle cx="145.02" cy="503.94" r="1.9" fill="#0f6aa8"/>
<circle cx="149.17" cy="504.85" r="1.9" fill="#0f6aa8"/>
<circle cx="153.33" cy="507.21" r="1.9" fill="#0f6aa8"/>
<circle cx="157.48" cy="508.57" r="1.9" fill="#0f6aa8"/>
<circle cx="161.64" cy="510.29" r="1.9" fill="#0f6aa8"/>
<circle cx="165.79" cy="512.83" r="1.9" fill="#0f6aa8"/>
<circle cx="169.95" cy="514.18" r="1.9" fill="#0f6aa8"/>
<circle cx="174.10" cy="514.82" r="1.9" fill="#0f6aa8"/>
<circle cx="178.25" cy="515.32" r="1.9" fill="#0f6aa8"/>
<circle cx="182.41" cy="514.99" r="1.9" fill="#0f6aa8"/>
<circle cx="186.56" cy="516.20" r="1.9" fill="#0f6aa8"/>
<circle cx="190.72" cy="516.73" r="1.9" fill="#0f6aa8"/>
<circle cx="194.87" cy="517.17" r="1.9" fill="#0f6aa8"/>
<circle cx="199.03" cy="518.64" r="1.9" fill="#0f6aa8"/>
<circle cx="203.18" cy="519.04" r="1.9" fill="#0f6aa8"/>
<circle cx="207.34" cy="520.12" r="1.9" fill="#0f6aa8"/>
<circle cx="211.49" cy="521.59" r="1.9" fill="#0f6aa8"/>
<circle cx="215.65" cy="521.90" r="1.9" fill="#0f6aa8"/>
<circle cx="219.80" cy="523.16" r="1.9" fill="#0f6aa8"/>
<circle cx="223.95" cy="524.08" r="1.9" fill="#0f6aa8"/>
<circle cx="228.11" cy="524.33" r="1.9" fill="#0f6aa8"/>
<circle cx="232.26" cy="525.75" r="1.9" fill="#0f6aa8"/>
<circle cx="236.42" cy="526.35" r="1.9" fill="#0f6aa8"/>
<circle cx="240.57" cy="527.05" r="1.9" fill="#0f6aa8"/>
<circle cx="244.73" cy="528.66" r="1.9" fill="#0f6aa8"/>
<circle cx="248.88" cy="528.62" r="1.9" fill="#0f6aa8"/>
<circle cx="253.04" cy="529.27" r="1.9" fill="#0f6aa8"/>
<polyline points="37.00,431.66 41.15,433.63 45.31,435.31 49.46,437.08 53.62,439.56 57.77,441.14 61.93,442.58 66.08,444.14 70.24,444.85 74.39,446.38 78.55,447.51 82.70,448.41 86.85,450.23 91.01,451.32 95.16,452.64 99.32,454.56 103.47,456.19 107.63,458.46 111.78,460.70 115.94,462.18 120.09,464.53 124.25,465.33 128.40,465.92 132.55,467.37 136.71,468.02 140.86,469.06 145.02,470.70 149.17,471.46 153.33,473.34 157.48,475.03 161.64,476.07 165.79,477.59 169.95,478.47 174.10,479.29 178.25,480.90 182.41,481.66 186.56,482.72 190.72,484.08 194.87,484.59 199.03,485.91 203.18,486.89 207.34,487.73 211.49,489.43 215.65,490.38 219.80,491.45 223.95,493.19 228.11,493.54 232.26,494.53 236.42,495.68 240.57,496.04 244.73,497.25 248.88,498.17 253.04,498.70" fill="none" stroke="#f7b900" stroke-width="1.6" stroke-linejoin="round"/>
<circle cx="37.00" cy="431.66" r="1.9" fill="#f7b900"/>
<circle cx="41.15" cy="433.63" r="1.9" fill="#f7b900"/>
<circle cx="45.31" cy="435.31" r="1.9" fill="#f7b900"/>
<circle cx="49.46" cy="437.08" r="1.9" fill="#f7b900"/>
<circle cx="53.62" cy="439.56" r="1.9" fill="#f7b900"/>
<circle cx="57.77" cy="441.14" r="1.9" fill="#f7b900"/>
<circle cx="61.93" cy="442.58" r="1.9" fill="#f7b900"/>
<circle cx="66.08" cy="444.14" r="1.9" fill="#f7b900"/>
<circle cx="70.24" cy="444.85" r="1.9" fill="#f7b900"/>
<circle cx="74.39" cy="446.38" r="1.9" fill="#f7b900"/>
<circle cx="78.55" cy="447.51" r="1.9" fill="#f7b900"/>
<circle cx="82.70" cy="448.41" r="1.9" fill="#f7b900"/>
<circle cx="86.85" cy="450.23" r="1.9" fill="#f7b900"/>
<circle cx="91.01" cy="451.32" r="1.9" fill="#f7b900"/>
<circle cx="95.16" cy="452.64" r="1.9" fill="#f7b900"/>
<circle cx="99.32" cy="454.56" r="1.9" fill="#f7b900"/>
<circle cx="103.47" cy="456.19" r="1.9" fill="#f7b900"/>
<circle cx="107.63" cy="458.46" r="1.9" fill="#f7b900"/>
<circle cx="111.78" cy="460.70" r="1.9" fill="#f7b900"/>
<circle cx="115.94" cy="462.18" r="1.9" fill="#f7b900"/>
<circle cx="120.09" cy="464.53" r="1.9" fill="#f7b900"/>
<circle cx="124.25" cy="465.33" r="1.9" fill="#f7b900"/>
<circle cx="128.40" cy="465.92" r="1.9" fill="#f7b900"/>
<circle cx="132.55" cy="467.37" r="1.9" fill="#f7b900"/>
<circle cx="136.71" cy="468.02" r="1.9" fill="#f7b900"/>
<circle cx="140.86" cy="469.06" r="1.9" fill="#f7b900"/>
<circle cx="145.02" cy="470.70" r="1.9" fill="#f7b900"/>
<circle cx="149.17" cy="471.46" r="1.9" fill="#f7b900"/>
<circle cx="153.33" cy="473.34" r="1.9" fill="#f7b900"/>
<circle cx="157.48" cy="475.03" r="1.9" fill="#f7b900"/>
<circle cx="161.64" cy="476.07" r="1.9" fill="#f7b900"/>
<circle cx="165.79" cy="477.59" r="1.9" fill="#f7b900"/>
<circle cx="169.95" cy="478.47" r="1.9" fill="#f7b900"/>
<circle cx="174.10" cy="479.29" r="1.9" fill="#f7b900"/>
<circle cx="178.25" cy="480.90" r="1.9" fill="#f7b900"/>
<circle cx="182.41" cy="481.66" r="1.9" fill="#f7b900"/>
<circle cx="186.56" cy="482.72" r="1.9" fill="#f7b900"/>
<circle cx="190.72" cy="484.08" r="1.9" fill="#f7b900"/>
<circle cx="194.87" cy="484.59" r="1.9" fill="#f7b900"/>
<circle cx="199.03" cy="485.91" r="1.9" fill="#f7b900"/>
<circle cx="203.18" cy="486.89" r="1.9" fill="#f7b900"/>
<circle cx="207.34" cy="487.73" r="1.9" fill="#f7b900"/>
<circle cx="211.49" cy="489.43" r="1.9" fill="#f7b900"/>
<circle cx="215.65" cy="490.38" r="1.9" fill="#f7b900"/>
<circle cx="219.80" cy="491.45" r="1.9" fill="#f7b900"/>
<circle cx="223.95" cy="493.19" r="1.9" fill="#f7b900"/>
<circle cx="228.11" cy="493.54" r="1.9" fill="#f7b900"/>
<circle cx="232.26" cy="494.53" r="1.9" fill="#f7b900"/>
<circle cx="236.42" cy="495.68" r="1.9" fill="#f7b900"/>
<circle cx="240.57" cy="496.04" r="1.9" fill="#f7b900"/>
<circle cx="244.73" cy="497.25" r="1.9" fill="#f7b900"/>
<circle cx="248.88" cy="498.17" r="1.9" fill="#f7b900"/>
<circle cx="253.04" cy="498.70" r="1.9" fill="#f7b900"/>
<rect x="37.00" y="406.70" width="228.50" height="134.40" fill="none" stroke="#000" stroke-width="1.6"/>
<line x1="37.00" y1="541.10" x2="37.00" y2="543.10" stroke="#000" stroke-width="1.2"/>
<line x1="37.00" y1="406.70" x2="37.00" y2="404.70" stroke="#000" stroke-width="1.2"/>
<line x1="78.55" y1="541.10" x2="78.55" y2="543.10" stroke="#000" stroke-width="1.2"/>
<line x1="78.55" y1="406.70" x2="78.55" y2="404.70" stroke="#000" stroke-width="1.2"/>
<line x1="120.09" y1="541.10" x2="120.09" y2="543.10" stroke="#000" stroke-width="1.2"/>
<line x1="120.09" y1="406.70" x2="120.09" y2="404.70" stroke="#000" stroke-width="1.2"/>
<line x1="161.64" y1="541.10" x2="161.64" y2="543.10" stroke="#000" stroke-width="1.2"/>
<line x1="161.64" y1="406.70" x2="161.64" y2="404.70" stroke="#000" stroke-width="1.2"/>
<line x1="203.18" y1="541.10" x2="203.18" y2="543.10" stroke="#000" stroke-width="1.2"/>
<line x1="203.18" y1="406.70" x2="203.18" y2="404.70" stroke="#000" stroke-width="1.2"/>
<line x1="244.73" y1="541.10" x2="244.73" y2="543.10" stroke="#000" stroke-width="1.2"/>
<line x1="244.73" y1="406.70" x2="244.73" y2="404.70" stroke="#000" stroke-width="1.2"/>
<line x1="37.00" y1="541.10" x2="35.00" y2="541.10" stroke="#000" stroke-width="1.2"/>
<line x1="265.50" y1="541.10" x2="267.50" y2="541.10" stroke="#000" stroke-width="1.2"/>
<line x1="37.00" y1="521.90" x2="35.00" y2="521.90" stroke="#000" stroke-width="1.2"/>
<line x1="265.50" y1="521.90" x2="267.50" y2="521.90" stroke="#000" stroke-width="1.2"/>
<line x1="37.00" y1="502.70" x2="35.00" y2="502.70" stroke="#000" stroke-width="1.2"/>
<line x1="265.50" y1="502.70" x2="267.50" y2="502.70" stroke="#000" stroke-width="1.2"/>
<line x1="37.00" y1="483.50" x2="35.00" y2="483.50" stroke="#000" stroke-width="1.2"/>
<line x1="265.50" y1="483.50" x2="267.50" y2="483.50" stroke="#000" stroke-width="1.2"/>
<line x1="37.00" y1="464.30" x2="35.00" y2="464.30" stroke="#000" stroke-width="1.2"/>
<line x1="265.50" y1="464.30" x2="267.50" y2="464.30" stroke="#000" stroke-width="1.2"/>
<line x1="37.00" y1="445.10" x2="35.00" y2="445.10" stroke="#000" stroke-width="1.2"/>
<line x1="265.50" y1="445.10" x2="267.50" y2="445.10" stroke="#000" stroke-width="1.2"/>
<line x1="37.00" y1="425.90" x2="35.00" y2="425.90" stroke="#000" stroke-width="1.2"/>
<line x1="265.50" y1="425.90" x2="267.50" y2="425.90" stroke="#000" stroke-width="1.2"/>
<line x1="37.00" y1="406.70" x2="35.00" y2="406.70" stroke="#000" stroke-width="1.2"/>
<line x1="265.50" y1="406.70" x2="267.50" y2="406.70" stroke="#000" stroke-width="1.2"/>
<line x1="57.77" y1="541.10" x2="57.77" y2="539.50" stroke="#000" stroke-width="1"/>
<line x1="57.77" y1="406.70" x2="57.77" y2="408.30" stroke="#000" stroke-width="1"/>
<line x1="99.32" y1="541.10" x2="99.32" y2="539.50" stroke="#000" stroke-width="1"/>
<line x1="99.32" y1="406.70" x2="99.32" y2="408.30" stroke="#000" stroke-width="1"/>
<line x1="140.86" y1="541.10" x2="140.86" y2="539.50" stroke="#000" stroke-width="1"/>
<line x1="140.86" y1="406.70" x2="140.86" y2="408.30" stroke="#000" stroke-width="1"/>
<line x1="182.41" y1="541.10" x2="182.41" y2="539.50" stroke="#000" stroke-width="1"/>
<line x1="182.41" y1="406.70" x2="182.41" y2="408.30" stroke="#000" stroke-width="1"/>
<line x1="223.95" y1="541.10" x2="223.95" y2="539.50" stroke="#000" stroke-width="1"/>
<line x1="223.95" y1="406.70" x2="223.95" y2="408.30" stroke="#000" stroke-width="1"/>
<line x1="37.00" y1="531.50" x2="38.60" y2="531.50" stroke="#000" stroke-width="1"/>
<line x1="265.50" y1="531.50" x2="263.90" y2="531.50" stroke="#000" stroke-width="1"/>
<line x1="37.00" y1="512.30" x2="38.60" y2="512.30" stroke="#000" stroke-width="1"/>
<line x1="265.50" y1="512.30" x2="263.90" y2="512.30" stroke="#000" stroke-width="1"/>
<line x1="37.00" y1="493.10" x2="38.60" y2="493.10" stroke="#000" stroke-width="1"/>
<line x1="265.50" y1="493.10" x2="263.90" y2="493.10" stroke="#000" stroke-width="1"/>
<line x1="37.00" y1="473.90" x2="38.60" y2="473.90" stroke="#000" stroke-width="1"/>
<line x1="265.50" y1="473.90" x2="263.90" y2="473.90" stroke="#000" stroke-width="1"/>
<line x1="37.00" y1="454.70" x2="38.60" y2="454.70" stroke="#000" stroke-width="1"/>
<line x1="265.50" y1="454.70" x2="263.90" y2="454.70" stroke="#000" stroke-width="1"/>
<line x1="37.00" y1="435.50" x2="38.60" y2="435.50" stroke="#000" stroke-width="1"/>
<line x1="265.50" y1="435.50" x2="263.90" y2="435.50" stroke="#000" stroke-width="1"/>
<line x1="37.00" y1="416.30" x2="38.60" y2="416.30" stroke="#000" stroke-width="1"/>
<line x1="265.50" y1="416.30" x2="263.90" y2="416.30" stroke="#000" stroke-width="1"/>
<text x="0" y="0" transform="translate(37.00,550.80) scale(1.100,1)" style="font-family:'Liberation Serif',serif;font-size:7.30px" text-anchor="middle" stroke="#000" stroke-width="0.30">0</text>
<text x="0" y="0" transform="translate(78.55,550.80) scale(1.100,1)" style="font-family:'Liberation Serif',serif;font-size:7.30px" text-anchor="middle" stroke="#000" stroke-width="0.30">10</text>
<text x="0" y="0" transform="translate(120.09,550.80) scale(1.100,1)" style="font-family:'Liberation Serif',serif;font-size:7.30px" text-anchor="middle" stroke="#000" stroke-width="0.30">20</text>
<text x="0" y="0" transform="translate(161.64,550.80) scale(1.100,1)" style="font-family:'Liberation Serif',serif;font-size:7.30px" text-anchor="middle" stroke="#000" stroke-width="0.30">30</text>
<text x="0" y="0" transform="translate(203.18,550.80) scale(1.100,1)" style="font-family:'Liberation Serif',serif;font-size:7.30px" text-anchor="middle" stroke="#000" stroke-width="0.30">40</text>
<text x="0" y="0" transform="translate(244.73,550.80) scale(1.100,1)" style="font-family:'Liberation Serif',serif;font-size:7.30px" text-anchor="middle" stroke="#000" stroke-width="0.30">50</text>
<text x="0" y="0" transform="translate(32.70,543.00) scale(1.100,1)" style="font-family:'Liberation Serif',serif;font-size:7.30px" text-anchor="end" stroke="#000" stroke-width="0.30">0.70</text>
<text x="0" y="0" transform="translate(32.70,523.80) scale(1.100,1)" style="font-family:'Liberation Serif',serif;font-size:7.30px" text-anchor="end" stroke="#000" stroke-width="0.30">0.75</text>
<text x="0" y="0" transform="translate(32.70,504.60) scale(1.100,1)" style="font-family:'Liberation Serif',serif;font-size:7.30px" text-anchor="end" stroke="#000" stroke-width="0.30">0.80</text>
<text x="0" y="0" transform="translate(32.70,485.40) scale(1.100,1)" style="font-family:'Liberation Serif',serif;font-size:7.30px" text-anchor="end" stroke="#000" stroke-width="0.30">0.85</text>
<text x="0" y="0" transform="translate(32.70,466.20) scale(1.100,1)" style="font-family:'Liberation Serif',serif;font-size:7.30px" text-anchor="end" stroke="#000" stroke-width="0.30">0.90</text>
<text x="0" y="0" transform="translate(32.70,447.00) scale(1.100,1)" style="font-family:'Liberation Serif',serif;font-size:7.30px" text-anchor="end" stroke="#000" stroke-width="0.30">0.95</text>
<text x="0" y="0" transform="translate(32.70,427.80) scale(1.100,1)" style="font-family:'Liberation Serif',serif;font-size:7.30px" text-anchor="end" stroke="#000" stroke-width="0.30">1.00</text>
<text x="0" y="0" transform="translate(32.70,408.60) scale(1.100,1)" style="font-family:'Liberation Serif',serif;font-size:7.30px" text-anchor="end" stroke="#000" stroke-width="0.30">1.05</text>
<text x="151.25" y="399.70" style="font-family:'Liberation Serif',serif;font-size:9.40px;font-weight:bold" text-anchor="middle" textLength="24.0" lengthAdjust="spacingAndGlyphs">Cell 3</text>
<text x="151.25" y="563.40" style="font-family:'Liberation Serif',serif;font-size:9.60px;font-weight:bold" text-anchor="middle" textLength="60.0" lengthAdjust="spacingAndGlyphs">Cycle number</text>
<text x="0" y="0" transform="translate(12.20,473.90) rotate(-90)" style="font-family:'Liberation Sans',sans-serif;font-size:9px;font-weight:bold" text-anchor="middle" textLength="20.5" lengthAdjust="spacingAndGlyphs">SOH</text>
<rect x="151.50" y="414.70" width="68.40" height="36.60" fill="#fff" stroke="#333" stroke-width="1"/>
<line x1="152.30" y1="421.20" x2="174.00" y2="421.20" stroke="#f21212" stroke-width="1.8"/>
<circle cx="163.30" cy="421.20" r="2" fill="#f21212"/>
<text x="176.30" y="423.80" style="font-family:'Liberation Serif',serif;font-size:8.00px;font-weight:bold" text-anchor="start">Real value</text>
<line x1="152.30" y1="432.90" x2="174.00" y2="432.90" stroke="#0f6aa8" stroke-width="1.8"/>
<circle cx="163.30" cy="432.90" r="2" fill="#0f6aa8"/>
<text x="174.50" y="435.50" style="font-family:'Liberation Serif',serif;font-size:8.00px;font-weight:bold" text-anchor="start">Before TL</text>
<line x1="152.30" y1="444.40" x2="174.00" y2="444.40" stroke="#f7b900" stroke-width="1.8"/>
<circle cx="163.30" cy="444.40" r="2" fill="#f7b900"/>
<text x="175.40" y="447.00" style="font-family:'Liberation Serif',serif;font-size:8.00px;font-weight:bold" text-anchor="start">After TL</text>
<line x1="353.75" y1="406.70" x2="353.75" y2="541.10" stroke="#9a9a9a" stroke-width="1.3"/>
<line x1="395.81" y1="406.70" x2="395.81" y2="541.10" stroke="#9a9a9a" stroke-width="1.3"/>
<line x1="437.86" y1="406.70" x2="437.86" y2="541.10" stroke="#9a9a9a" stroke-width="1.3"/>
<line x1="479.92" y1="406.70" x2="479.92" y2="541.10" stroke="#9a9a9a" stroke-width="1.3"/>
<line x1="521.97" y1="406.70" x2="521.97" y2="541.10" stroke="#9a9a9a" stroke-width="1.3"/>
<line x1="311.70" y1="502.70" x2="543.00" y2="502.70" stroke="#9a9a9a" stroke-width="1.3"/>
<line x1="311.70" y1="464.30" x2="543.00" y2="464.30" stroke="#9a9a9a" stroke-width="1.3"/>
<line x1="311.70" y1="425.90" x2="543.00" y2="425.90" stroke="#9a9a9a" stroke-width="1.3"/>
<polyline points="311.70,467.18 315.91,475.82 320.11,481.58 324.32,481.58 328.52,487.34 332.73,490.22 336.93,491.66 341.14,496.46 345.34,498.86 349.55,503.18 353.75,505.10 357.96,505.58 362.17,507.50 366.37,509.42 370.58,508.94 374.78,511.82 378.99,513.26 383.19,511.82 387.40,512.30 391.60,511.82 395.81,512.78 400.01,512.30 404.22,512.78 408.43,513.26 412.63,513.26 416.84,512.30 421.04,513.74 425.25,510.86 429.45,513.36 433.66,510.38 437.86,510.38 442.07,508.94 446.27,511.05 450.48,514.99 454.69,508.08 458.89,509.71 463.10,509.04 467.30,506.54 471.51,506.54 475.71,505.87 479.92,504.72 484.12,504.33 488.33,504.72 492.53,502.89 496.74,500.59 500.95,501.26 505.15,501.93 509.36,503.47 513.56,501.93 517.77,498.28 521.97,500.11 526.18,499.63 530.38,497.42" fill="none" stroke="#0f6aa8" stroke-width="1.6" stroke-linejoin="round"/>
<circle cx="311.70" cy="467.18" r="1.9" fill="#0f6aa8"/>
<circle cx="315.91" cy="475.82" r="1.9" fill="#0f6aa8"/>
<circle cx="320.11" cy="481.58" r="1.9" fill="#0f6aa8"/>
<circle cx="324.32" cy="481.58" r="1.9" fill="#0f6aa8"/>
<circle cx="328.52" cy="487.34" r="1.9" fill="#0f6aa8"/>
<circle cx="332.73" cy="490.22" r="1.9" fill="#0f6aa8"/>
<circle cx="336.93" cy="491.66" r="1.9" fill="#0f6aa8"/>
<circle cx="341.14" cy="496.46" r="1.9" fill="#0f6aa8"/>
<circle cx="345.34" cy="498.86" r="1.9" fill="#0f6aa8"/>
<circle cx="349.55" cy="503.18" r="1.9" fill="#0f6aa8"/>
<circle cx="353.75" cy="505.10" r="1.9" fill="#0f6aa8"/>
<circle cx="357.96" cy="505.58" r="1.9" fill="#0f6aa8"/>
<circle cx="362.17" cy="507.50" r="1.9" fill="#0f6aa8"/>
<circle cx="366.37" cy="509.42" r="1.9" fill="#0f6aa8"/>
<circle cx="370.58" cy="508.94" r="1.9" fill="#0f6aa8"/>
<circle cx="374.78" cy="511.82" r="1.9" fill="#0f6aa8"/>
<circle cx="378.99" cy="513.26" r="1.9" fill="#0f6aa8"/>
<circle cx="383.19" cy="511.82" r="1.9" fill="#0f6aa8"/>
<circle cx="387.40" cy="512.30" r="1.9" fill="#0f6aa8"/>
<circle cx="391.60" cy="511.82" r="1.9" fill="#0f6aa8"/>
<circle cx="395.81" cy="512.78" r="1.9" fill="#0f6aa8"/>
<circle cx="400.01" cy="512.30" r="1.9" fill="#0f6aa8"/>
<circle cx="404.22" cy="512.78" r="1.9" fill="#0f6aa8"/>
<circle cx="408.43" cy="513.26" r="1.9" fill="#0f6aa8"/>
<circle cx="412.63" cy="513.26" r="1.9" fill="#0f6aa8"/>
<circle cx="416.84" cy="512.30" r="1.9" fill="#0f6aa8"/>
<circle cx="421.04" cy="513.74" r="1.9" fill="#0f6aa8"/>
<circle cx="425.25" cy="510.86" r="1.9" fill="#0f6aa8"/>
<circle cx="429.45" cy="513.36" r="1.9" fill="#0f6aa8"/>
<circle cx="433.66" cy="510.38" r="1.9" fill="#0f6aa8"/>
<circle cx="437.86" cy="510.38" r="1.9" fill="#0f6aa8"/>
<circle cx="442.07" cy="508.94" r="1.9" fill="#0f6aa8"/>
<circle cx="446.27" cy="511.05" r="1.9" fill="#0f6aa8"/>
<circle cx="450.48" cy="514.99" r="1.9" fill="#0f6aa8"/>
<circle cx="454.69" cy="508.08" r="1.9" fill="#0f6aa8"/>
<circle cx="458.89" cy="509.71" r="1.9" fill="#0f6aa8"/>
<circle cx="463.10" cy="509.04" r="1.9" fill="#0f6aa8"/>
<circle cx="467.30" cy="506.54" r="1.9" fill="#0f6aa8"/>
<circle cx="471.51" cy="506.54" r="1.9" fill="#0f6aa8"/>
<circle cx="475.71" cy="505.87" r="1.9" fill="#0f6aa8"/>
<circle cx="479.92" cy="504.72" r="1.9" fill="#0f6aa8"/>
<circle cx="484.12" cy="504.33" r="1.9" fill="#0f6aa8"/>
<circle cx="488.33" cy="504.72" r="1.9" fill="#0f6aa8"/>
<circle cx="492.53" cy="502.89" r="1.9" fill="#0f6aa8"/>
<circle cx="496.74" cy="500.59" r="1.9" fill="#0f6aa8"/>
<circle cx="500.95" cy="501.26" r="1.9" fill="#0f6aa8"/>
<circle cx="505.15" cy="501.93" r="1.9" fill="#0f6aa8"/>
<circle cx="509.36" cy="503.47" r="1.9" fill="#0f6aa8"/>
<circle cx="513.56" cy="501.93" r="1.9" fill="#0f6aa8"/>
<circle cx="517.77" cy="498.28" r="1.9" fill="#0f6aa8"/>
<circle cx="521.97" cy="500.11" r="1.9" fill="#0f6aa8"/>
<circle cx="526.18" cy="499.63" r="1.9" fill="#0f6aa8"/>
<circle cx="530.38" cy="497.42" r="1.9" fill="#0f6aa8"/>
<polyline points="311.70,427.34 315.91,428.78 320.11,430.22 324.32,430.70 328.52,431.18 332.73,430.22 336.93,430.22 341.14,430.70 345.34,431.18 349.55,430.70 353.75,430.70 357.96,430.22 362.17,430.22 366.37,430.22 370.58,429.74 374.78,429.74 378.99,428.78 383.19,427.34 387.40,425.90 391.60,427.82 395.81,425.90 400.01,427.82 404.22,425.90 408.43,426.86 412.63,425.42 416.84,425.90 421.04,427.34 425.25,423.02 429.45,426.86 433.66,423.02 437.86,425.90 442.07,426.86 446.27,423.50 450.48,428.78 454.69,423.50 458.89,424.94 463.10,424.46 467.30,423.02 471.51,423.50 475.71,423.50 479.92,423.02 484.12,423.50 488.33,423.50 492.53,423.02 496.74,420.62 500.95,422.54 505.15,421.10 509.36,422.54 513.56,423.02 517.77,420.14 521.97,422.06 526.18,422.06 530.38,420.62" fill="none" stroke="#f7b900" stroke-width="1.6" stroke-linejoin="round"/>
<circle cx="311.70" cy="427.34" r="1.9" fill="#f7b900"/>
<circle cx="315.91" cy="428.78" r="1.9" fill="#f7b900"/>
<circle cx="320.11" cy="430.22" r="1.9" fill="#f7b900"/>
<circle cx="324.32" cy="430.70" r="1.9" fill="#f7b900"/>
<circle cx="328.52" cy="431.18" r="1.9" fill="#f7b900"/>
<circle cx="332.73" cy="430.22" r="1.9" fill="#f7b900"/>
<circle cx="336.93" cy="430.22" r="1.9" fill="#f7b900"/>
<circle cx="341.14" cy="430.70" r="1.9" fill="#f7b900"/>
<circle cx="345.34" cy="431.18" r="1.9" fill="#f7b900"/>
<circle cx="349.55" cy="430.70" r="1.9" fill="#f7b900"/>
<circle cx="353.75" cy="430.70" r="1.9" fill="#f7b900"/>
<circle cx="357.96" cy="430.22" r="1.9" fill="#f7b900"/>
<circle cx="362.17" cy="430.22" r="1.9" fill="#f7b900"/>
<circle cx="366.37" cy="430.22" r="1.9" fill="#f7b900"/>
<circle cx="370.58" cy="429.74" r="1.9" fill="#f7b900"/>
<circle cx="374.78" cy="429.74" r="1.9" fill="#f7b900"/>
<circle cx="378.99" cy="428.78" r="1.9" fill="#f7b900"/>
<circle cx="383.19" cy="427.34" r="1.9" fill="#f7b900"/>
<circle cx="387.40" cy="425.90" r="1.9" fill="#f7b900"/>
<circle cx="391.60" cy="427.82" r="1.9" fill="#f7b900"/>
<circle cx="395.81" cy="425.90" r="1.9" fill="#f7b900"/>
<circle cx="400.01" cy="427.82" r="1.9" fill="#f7b900"/>
<circle cx="404.22" cy="425.90" r="1.9" fill="#f7b900"/>
<circle cx="408.43" cy="426.86" r="1.9" fill="#f7b900"/>
<circle cx="412.63" cy="425.42" r="1.9" fill="#f7b900"/>
<circle cx="416.84" cy="425.90" r="1.9" fill="#f7b900"/>
<circle cx="421.04" cy="427.34" r="1.9" fill="#f7b900"/>
<circle cx="425.25" cy="423.02" r="1.9" fill="#f7b900"/>
<circle cx="429.45" cy="426.86" r="1.9" fill="#f7b900"/>
<circle cx="433.66" cy="423.02" r="1.9" fill="#f7b900"/>
<circle cx="437.86" cy="425.90" r="1.9" fill="#f7b900"/>
<circle cx="442.07" cy="426.86" r="1.9" fill="#f7b900"/>
<circle cx="446.27" cy="423.50" r="1.9" fill="#f7b900"/>
<circle cx="450.48" cy="428.78" r="1.9" fill="#f7b900"/>
<circle cx="454.69" cy="423.50" r="1.9" fill="#f7b900"/>
<circle cx="458.89" cy="424.94" r="1.9" fill="#f7b900"/>
<circle cx="463.10" cy="424.46" r="1.9" fill="#f7b900"/>
<circle cx="467.30" cy="423.02" r="1.9" fill="#f7b900"/>
<circle cx="471.51" cy="423.50" r="1.9" fill="#f7b900"/>
<circle cx="475.71" cy="423.50" r="1.9" fill="#f7b900"/>
<circle cx="479.92" cy="423.02" r="1.9" fill="#f7b900"/>
<circle cx="484.12" cy="423.50" r="1.9" fill="#f7b900"/>
<circle cx="488.33" cy="423.50" r="1.9" fill="#f7b900"/>
<circle cx="492.53" cy="423.02" r="1.9" fill="#f7b900"/>
<circle cx="496.74" cy="420.62" r="1.9" fill="#f7b900"/>
<circle cx="500.95" cy="422.54" r="1.9" fill="#f7b900"/>
<circle cx="505.15" cy="421.10" r="1.9" fill="#f7b900"/>
<circle cx="509.36" cy="422.54" r="1.9" fill="#f7b900"/>
<circle cx="513.56" cy="423.02" r="1.9" fill="#f7b900"/>
<circle cx="517.77" cy="420.14" r="1.9" fill="#f7b900"/>
<circle cx="521.97" cy="422.06" r="1.9" fill="#f7b900"/>
<circle cx="526.18" cy="422.06" r="1.9" fill="#f7b900"/>
<circle cx="530.38" cy="420.62" r="1.9" fill="#f7b900"/>
<rect x="311.70" y="406.70" width="231.30" height="134.40" fill="none" stroke="#000" stroke-width="1.6"/>
<line x1="311.70" y1="541.10" x2="311.70" y2="543.10" stroke="#000" stroke-width="1.2"/>
<line x1="311.70" y1="406.70" x2="311.70" y2="404.70" stroke="#000" stroke-width="1.2"/>
<line x1="353.75" y1="541.10" x2="353.75" y2="543.10" stroke="#000" stroke-width="1.2"/>
<line x1="353.75" y1="406.70" x2="353.75" y2="404.70" stroke="#000" stroke-width="1.2"/>
<line x1="395.81" y1="541.10" x2="395.81" y2="543.10" stroke="#000" stroke-width="1.2"/>
<line x1="395.81" y1="406.70" x2="395.81" y2="404.70" stroke="#000" stroke-width="1.2"/>
<line x1="437.86" y1="541.10" x2="437.86" y2="543.10" stroke="#000" stroke-width="1.2"/>
<line x1="437.86" y1="406.70" x2="437.86" y2="404.70" stroke="#000" stroke-width="1.2"/>
<line x1="479.92" y1="541.10" x2="479.92" y2="543.10" stroke="#000" stroke-width="1.2"/>
<line x1="479.92" y1="406.70" x2="479.92" y2="404.70" stroke="#000" stroke-width="1.2"/>
<line x1="521.97" y1="541.10" x2="521.97" y2="543.10" stroke="#000" stroke-width="1.2"/>
<line x1="521.97" y1="406.70" x2="521.97" y2="404.70" stroke="#000" stroke-width="1.2"/>
<line x1="311.70" y1="541.10" x2="309.70" y2="541.10" stroke="#000" stroke-width="1.2"/>
<line x1="543.00" y1="541.10" x2="545.00" y2="541.10" stroke="#000" stroke-width="1.2"/>
<line x1="311.70" y1="502.70" x2="309.70" y2="502.70" stroke="#000" stroke-width="1.2"/>
<line x1="543.00" y1="502.70" x2="545.00" y2="502.70" stroke="#000" stroke-width="1.2"/>
<line x1="311.70" y1="464.30" x2="309.70" y2="464.30" stroke="#000" stroke-width="1.2"/>
<line x1="543.00" y1="464.30" x2="545.00" y2="464.30" stroke="#000" stroke-width="1.2"/>
<line x1="311.70" y1="425.90" x2="309.70" y2="425.90" stroke="#000" stroke-width="1.2"/>
<line x1="543.00" y1="425.90" x2="545.00" y2="425.90" stroke="#000" stroke-width="1.2"/>
<line x1="332.73" y1="541.10" x2="332.73" y2="539.50" stroke="#000" stroke-width="1"/>
<line x1="332.73" y1="406.70" x2="332.73" y2="408.30" stroke="#000" stroke-width="1"/>
<line x1="374.78" y1="541.10" x2="374.78" y2="539.50" stroke="#000" stroke-width="1"/>
<line x1="374.78" y1="406.70" x2="374.78" y2="408.30" stroke="#000" stroke-width="1"/>
<line x1="416.84" y1="541.10" x2="416.84" y2="539.50" stroke="#000" stroke-width="1"/>
<line x1="416.84" y1="406.70" x2="416.84" y2="408.30" stroke="#000" stroke-width="1"/>
<line x1="458.89" y1="541.10" x2="458.89" y2="539.50" stroke="#000" stroke-width="1"/>
<line x1="458.89" y1="406.70" x2="458.89" y2="408.30" stroke="#000" stroke-width="1"/>
<line x1="500.95" y1="541.10" x2="500.95" y2="539.50" stroke="#000" stroke-width="1"/>
<line x1="500.95" y1="406.70" x2="500.95" y2="408.30" stroke="#000" stroke-width="1"/>
<line x1="311.70" y1="521.90" x2="313.30" y2="521.90" stroke="#000" stroke-width="1"/>
<line x1="543.00" y1="521.90" x2="541.40" y2="521.90" stroke="#000" stroke-width="1"/>
<line x1="311.70" y1="483.50" x2="313.30" y2="483.50" stroke="#000" stroke-width="1"/>
<line x1="543.00" y1="483.50" x2="541.40" y2="483.50" stroke="#000" stroke-width="1"/>
<line x1="311.70" y1="445.10" x2="313.30" y2="445.10" stroke="#000" stroke-width="1"/>
<line x1="543.00" y1="445.10" x2="541.40" y2="445.10" stroke="#000" stroke-width="1"/>
<text x="0" y="0" transform="translate(311.70,550.80) scale(1.100,1)" style="font-family:'Liberation Serif',serif;font-size:7.30px" text-anchor="middle" stroke="#000" stroke-width="0.30">0</text>
<text x="0" y="0" transform="translate(353.75,550.80) scale(1.100,1)" style="font-family:'Liberation Serif',serif;font-size:7.30px" text-anchor="middle" stroke="#000" stroke-width="0.30">10</text>
<text x="0" y="0" transform="translate(395.81,550.80) scale(1.100,1)" style="font-family:'Liberation Serif',serif;font-size:7.30px" text-anchor="middle" stroke="#000" stroke-width="0.30">20</text>
<text x="0" y="0" transform="translate(437.86,550.80) scale(1.100,1)" style="font-family:'Liberation Serif',serif;font-size:7.30px" text-anchor="middle" stroke="#000" stroke-width="0.30">30</text>
<text x="0" y="0" transform="translate(479.92,550.80) scale(1.100,1)" style="font-family:'Liberation Serif',serif;font-size:7.30px" text-anchor="middle" stroke="#000" stroke-width="0.30">40</text>
<text x="0" y="0" transform="translate(521.97,550.80) scale(1.100,1)" style="font-family:'Liberation Serif',serif;font-size:7.30px" text-anchor="middle" stroke="#000" stroke-width="0.30">50</text>
<text x="0" y="0" transform="translate(307.40,543.00) scale(1.100,1)" style="font-family:'Liberation Serif',serif;font-size:7.30px" text-anchor="end" stroke="#000" stroke-width="0.30">−12</text>
<text x="0" y="0" transform="translate(307.40,504.60) scale(1.100,1)" style="font-family:'Liberation Serif',serif;font-size:7.30px" text-anchor="end" stroke="#000" stroke-width="0.30">−8</text>
<text x="0" y="0" transform="translate(307.40,466.20) scale(1.100,1)" style="font-family:'Liberation Serif',serif;font-size:7.30px" text-anchor="end" stroke="#000" stroke-width="0.30">−4</text>
<text x="0" y="0" transform="translate(307.40,427.80) scale(1.100,1)" style="font-family:'Liberation Serif',serif;font-size:7.30px" text-anchor="end" stroke="#000" stroke-width="0.30">0</text>
<text x="427.35" y="399.70" style="font-family:'Liberation Serif',serif;font-size:9.40px;font-weight:bold" text-anchor="middle" textLength="65.5" lengthAdjust="spacingAndGlyphs">Estimated error</text>
<text x="427.35" y="563.40" style="font-family:'Liberation Serif',serif;font-size:9.60px;font-weight:bold" text-anchor="middle" textLength="60.0" lengthAdjust="spacingAndGlyphs">Cycle number</text>
<text x="0" y="0" transform="translate(292.30,473.90) rotate(-90)" style="font-family:'Liberation Serif',serif;font-size:9px;font-weight:bold" text-anchor="middle" textLength="38" lengthAdjust="spacingAndGlyphs">Error (%)</text>
<rect x="474.70" y="510.90" width="61.60" height="24.60" fill="#fff" stroke="#333" stroke-width="1"/>
<line x1="475.50" y1="517.80" x2="497.20" y2="517.80" stroke="#0f6aa8" stroke-width="1.8"/>
<circle cx="486.50" cy="517.80" r="2" fill="#0f6aa8"/>
<text x="497.40" y="520.40" style="font-family:'Liberation Serif',serif;font-size:8.00px;font-weight:bold" text-anchor="start">Before TL</text>
<line x1="475.50" y1="529.30" x2="497.20" y2="529.30" stroke="#f7b900" stroke-width="1.8"/>
<circle cx="486.50" cy="529.30" r="2" fill="#f7b900"/>
<text x="497.40" y="531.90" style="font-family:'Liberation Serif',serif;font-size:8.00px;font-weight:bold" text-anchor="start">After TL</text>
<line x1="82.40" y1="601.30" x2="82.40" y2="736.80" stroke="#9a9a9a" stroke-width="1.3"/>
<line x1="127.80" y1="601.30" x2="127.80" y2="736.80" stroke="#9a9a9a" stroke-width="1.3"/>
<line x1="173.20" y1="601.30" x2="173.20" y2="736.80" stroke="#9a9a9a" stroke-width="1.3"/>
<line x1="218.60" y1="601.30" x2="218.60" y2="736.80" stroke="#9a9a9a" stroke-width="1.3"/>
<line x1="37.00" y1="716.08" x2="264.00" y2="716.08" stroke="#9a9a9a" stroke-width="1.3"/>
<line x1="37.00" y1="695.36" x2="264.00" y2="695.36" stroke="#9a9a9a" stroke-width="1.3"/>
<line x1="37.00" y1="674.64" x2="264.00" y2="674.64" stroke="#9a9a9a" stroke-width="1.3"/>
<line x1="37.00" y1="653.93" x2="264.00" y2="653.93" stroke="#9a9a9a" stroke-width="1.3"/>
<line x1="37.00" y1="633.21" x2="264.00" y2="633.21" stroke="#9a9a9a" stroke-width="1.3"/>
<line x1="37.00" y1="612.49" x2="264.00" y2="612.49" stroke="#9a9a9a" stroke-width="1.3"/>
<polyline points="37.00,614.97 41.54,619.07 46.08,622.75 50.62,624.98 55.16,626.22 59.70,627.75 64.24,629.73 68.78,630.75 73.32,632.63 77.86,634.46 82.40,635.70 86.94,638.21 91.48,640.06 96.02,641.77 100.56,644.22 105.10,645.64 109.64,647.58 114.18,649.82 118.72,651.18 123.26,653.48 127.80,655.57 132.34,656.77 136.88,658.99 141.42,660.41 145.96,661.86 150.50,663.94 155.04,664.36 159.58,665.37 164.12,666.52 168.66,667.55 173.20,669.61 177.74,671.28 182.28,672.64 186.82,674.96 191.36,676.38 195.90,677.99 200.44,679.60 204.98,680.16 209.52,681.44 214.06,682.71 218.60,683.28 223.14,684.78 227.68,685.75 232.22,686.57 236.76,688.26" fill="none" stroke="#f21212" stroke-width="1.6" stroke-linejoin="round"/>
<circle cx="37.00" cy="614.97" r="1.9" fill="#f21212"/>
<circle cx="41.54" cy="619.07" r="1.9" fill="#f21212"/>
<circle cx="46.08" cy="622.75" r="1.9" fill="#f21212"/>
<circle cx="50.62" cy="624.98" r="1.9" fill="#f21212"/>
<circle cx="55.16" cy="626.22" r="1.9" fill="#f21212"/>
<circle cx="59.70" cy="627.75" r="1.9" fill="#f21212"/>
<circle cx="64.24" cy="629.73" r="1.9" fill="#f21212"/>
<circle cx="68.78" cy="630.75" r="1.9" fill="#f21212"/>
<circle cx="73.32" cy="632.63" r="1.9" fill="#f21212"/>
<circle cx="77.86" cy="634.46" r="1.9" fill="#f21212"/>
<circle cx="82.40" cy="635.70" r="1.9" fill="#f21212"/>
<circle cx="86.94" cy="638.21" r="1.9" fill="#f21212"/>
<circle cx="91.48" cy="640.06" r="1.9" fill="#f21212"/>
<circle cx="96.02" cy="641.77" r="1.9" fill="#f21212"/>
<circle cx="100.56" cy="644.22" r="1.9" fill="#f21212"/>
<circle cx="105.10" cy="645.64" r="1.9" fill="#f21212"/>
<circle cx="109.64" cy="647.58" r="1.9" fill="#f21212"/>
<circle cx="114.18" cy="649.82" r="1.9" fill="#f21212"/>
<circle cx="118.72" cy="651.18" r="1.9" fill="#f21212"/>
<circle cx="123.26" cy="653.48" r="1.9" fill="#f21212"/>
<circle cx="127.80" cy="655.57" r="1.9" fill="#f21212"/>
<circle cx="132.34" cy="656.77" r="1.9" fill="#f21212"/>
<circle cx="136.88" cy="658.99" r="1.9" fill="#f21212"/>
<circle cx="141.42" cy="660.41" r="1.9" fill="#f21212"/>
<circle cx="145.96" cy="661.86" r="1.9" fill="#f21212"/>
<circle cx="150.50" cy="663.94" r="1.9" fill="#f21212"/>
<circle cx="155.04" cy="664.36" r="1.9" fill="#f21212"/>
<circle cx="159.58" cy="665.37" r="1.9" fill="#f21212"/>
<circle cx="164.12" cy="666.52" r="1.9" fill="#f21212"/>
<circle cx="168.66" cy="667.55" r="1.9" fill="#f21212"/>
<circle cx="173.20" cy="669.61" r="1.9" fill="#f21212"/>
<circle cx="177.74" cy="671.28" r="1.9" fill="#f21212"/>
<circle cx="182.28" cy="672.64" r="1.9" fill="#f21212"/>
<circle cx="186.82" cy="674.96" r="1.9" fill="#f21212"/>
<circle cx="191.36" cy="676.38" r="1.9" fill="#f21212"/>
<circle cx="195.90" cy="677.99" r="1.9" fill="#f21212"/>
<circle cx="200.44" cy="679.60" r="1.9" fill="#f21212"/>
<circle cx="204.98" cy="680.16" r="1.9" fill="#f21212"/>
<circle cx="209.52" cy="681.44" r="1.9" fill="#f21212"/>
<circle cx="214.06" cy="682.71" r="1.9" fill="#f21212"/>
<circle cx="218.60" cy="683.28" r="1.9" fill="#f21212"/>
<circle cx="223.14" cy="684.78" r="1.9" fill="#f21212"/>
<circle cx="227.68" cy="685.75" r="1.9" fill="#f21212"/>
<circle cx="232.22" cy="686.57" r="1.9" fill="#f21212"/>
<circle cx="236.76" cy="688.26" r="1.9" fill="#f21212"/>
<polyline points="37.00,634.86 41.54,644.50 46.08,649.16 50.62,652.74 55.16,656.45 59.70,661.13 64.24,663.53 68.78,666.74 73.32,670.15 77.86,672.45 82.40,675.87 86.94,677.51 91.48,678.62 96.02,680.90 100.56,682.14 105.10,683.71 109.64,686.59 114.18,688.30 118.72,690.95 123.26,693.59 127.80,695.24 132.34,697.13 136.88,698.23 141.42,699.00 145.96,700.87 150.50,701.62 155.04,702.58 159.58,704.17 164.12,704.62 168.66,706.13 173.20,707.41 177.74,707.84 182.28,709.42 186.82,710.07 191.36,710.61 195.90,712.13 200.44,712.41 204.98,713.42 209.52,714.86 214.06,715.23 218.60,716.74 223.14,718.15 227.68,718.86 232.22,718.64 236.76,721.91" fill="none" stroke="#0f6aa8" stroke-width="1.6" stroke-linejoin="round"/>
<circle cx="37.00" cy="634.86" r="1.9" fill="#0f6aa8"/>
<circle cx="41.54" cy="644.50" r="1.9" fill="#0f6aa8"/>
<circle cx="46.08" cy="649.16" r="1.9" fill="#0f6aa8"/>
<circle cx="50.62" cy="652.74" r="1.9" fill="#0f6aa8"/>
<circle cx="55.16" cy="656.45" r="1.9" fill="#0f6aa8"/>
<circle cx="59.70" cy="661.13" r="1.9" fill="#0f6aa8"/>
<circle cx="64.24" cy="663.53" r="1.9" fill="#0f6aa8"/>
<circle cx="68.78" cy="666.74" r="1.9" fill="#0f6aa8"/>
<circle cx="73.32" cy="670.15" r="1.9" fill="#0f6aa8"/>
<circle cx="77.86" cy="672.45" r="1.9" fill="#0f6aa8"/>
<circle cx="82.40" cy="675.87" r="1.9" fill="#0f6aa8"/>
<circle cx="86.94" cy="677.51" r="1.9" fill="#0f6aa8"/>
<circle cx="91.48" cy="678.62" r="1.9" fill="#0f6aa8"/>
<circle cx="96.02" cy="680.90" r="1.9" fill="#0f6aa8"/>
<circle cx="100.56" cy="682.14" r="1.9" fill="#0f6aa8"/>
<circle cx="105.10" cy="683.71" r="1.9" fill="#0f6aa8"/>
<circle cx="109.64" cy="686.59" r="1.9" fill="#0f6aa8"/>
<circle cx="114.18" cy="688.30" r="1.9" fill="#0f6aa8"/>
<circle cx="118.72" cy="690.95" r="1.9" fill="#0f6aa8"/>
<circle cx="123.26" cy="693.59" r="1.9" fill="#0f6aa8"/>
<circle cx="127.80" cy="695.24" r="1.9" fill="#0f6aa8"/>
<circle cx="132.34" cy="697.13" r="1.9" fill="#0f6aa8"/>
<circle cx="136.88" cy="698.23" r="1.9" fill="#0f6aa8"/>
<circle cx="141.42" cy="699.00" r="1.9" fill="#0f6aa8"/>
<circle cx="145.96" cy="700.87" r="1.9" fill="#0f6aa8"/>
<circle cx="150.50" cy="701.62" r="1.9" fill="#0f6aa8"/>
<circle cx="155.04" cy="702.58" r="1.9" fill="#0f6aa8"/>
<circle cx="159.58" cy="704.17" r="1.9" fill="#0f6aa8"/>
<circle cx="164.12" cy="704.62" r="1.9" fill="#0f6aa8"/>
<circle cx="168.66" cy="706.13" r="1.9" fill="#0f6aa8"/>
<circle cx="173.20" cy="707.41" r="1.9" fill="#0f6aa8"/>
<circle cx="177.74" cy="707.84" r="1.9" fill="#0f6aa8"/>
<circle cx="182.28" cy="709.42" r="1.9" fill="#0f6aa8"/>
<circle cx="186.82" cy="710.07" r="1.9" fill="#0f6aa8"/>
<circle cx="191.36" cy="710.61" r="1.9" fill="#0f6aa8"/>
<circle cx="195.90" cy="712.13" r="1.9" fill="#0f6aa8"/>
<circle cx="200.44" cy="712.41" r="1.9" fill="#0f6aa8"/>
<circle cx="204.98" cy="713.42" r="1.9" fill="#0f6aa8"/>
<circle cx="209.52" cy="714.86" r="1.9" fill="#0f6aa8"/>
<circle cx="214.06" cy="715.23" r="1.9" fill="#0f6aa8"/>
<circle cx="218.60" cy="716.74" r="1.9" fill="#0f6aa8"/>
<circle cx="223.14" cy="718.15" r="1.9" fill="#0f6aa8"/>
<circle cx="227.68" cy="718.86" r="1.9" fill="#0f6aa8"/>
<circle cx="232.22" cy="718.64" r="1.9" fill="#0f6aa8"/>
<circle cx="236.76" cy="721.91" r="1.9" fill="#0f6aa8"/>
<polyline points="37.00,615.39 41.54,619.76 46.08,624.73 50.62,627.17 55.16,628.83 59.70,631.43 64.24,633.34 68.78,634.85 73.32,637.22 77.86,638.66 82.40,640.39 86.94,642.43 91.48,643.55 96.02,645.52 100.56,647.47 105.10,648.74 109.64,651.13 114.18,652.85 118.72,654.34 123.26,656.61 127.80,657.90 132.34,659.14 136.88,660.81 141.42,661.60 145.96,663.32 150.50,664.86 155.04,665.83 159.58,667.75 164.12,668.87 168.66,669.93 173.20,671.68 177.74,672.42 182.28,673.76 186.82,675.37 191.36,676.18 195.90,677.98 200.44,679.27 204.98,680.12 209.52,681.88 214.06,682.74 218.60,683.70 223.14,685.12 227.68,685.53 232.22,686.68 236.76,687.94" fill="none" stroke="#f7b900" stroke-width="1.6" stroke-linejoin="round"/>
<circle cx="37.00" cy="615.39" r="1.9" fill="#f7b900"/>
<circle cx="41.54" cy="619.76" r="1.9" fill="#f7b900"/>
<circle cx="46.08" cy="624.73" r="1.9" fill="#f7b900"/>
<circle cx="50.62" cy="627.17" r="1.9" fill="#f7b900"/>
<circle cx="55.16" cy="628.83" r="1.9" fill="#f7b900"/>
<circle cx="59.70" cy="631.43" r="1.9" fill="#f7b900"/>
<circle cx="64.24" cy="633.34" r="1.9" fill="#f7b900"/>
<circle cx="68.78" cy="634.85" r="1.9" fill="#f7b900"/>
<circle cx="73.32" cy="637.22" r="1.9" fill="#f7b900"/>
<circle cx="77.86" cy="638.66" r="1.9" fill="#f7b900"/>
<circle cx="82.40" cy="640.39" r="1.9" fill="#f7b900"/>
<circle cx="86.94" cy="642.43" r="1.9" fill="#f7b900"/>
<circle cx="91.48" cy="643.55" r="1.9" fill="#f7b900"/>
<circle cx="96.02" cy="645.52" r="1.9" fill="#f7b900"/>
<circle cx="100.56" cy="647.47" r="1.9" fill="#f7b900"/>
<circle cx="105.10" cy="648.74" r="1.9" fill="#f7b900"/>
<circle cx="109.64" cy="651.13" r="1.9" fill="#f7b900"/>
<circle cx="114.18" cy="652.85" r="1.9" fill="#f7b900"/>
<circle cx="118.72" cy="654.34" r="1.9" fill="#f7b900"/>
<circle cx="123.26" cy="656.61" r="1.9" fill="#f7b900"/>
<circle cx="127.80" cy="657.90" r="1.9" fill="#f7b900"/>
<circle cx="132.34" cy="659.14" r="1.9" fill="#f7b900"/>
<circle cx="136.88" cy="660.81" r="1.9" fill="#f7b900"/>
<circle cx="141.42" cy="661.60" r="1.9" fill="#f7b900"/>
<circle cx="145.96" cy="663.32" r="1.9" fill="#f7b900"/>
<circle cx="150.50" cy="664.86" r="1.9" fill="#f7b900"/>
<circle cx="155.04" cy="665.83" r="1.9" fill="#f7b900"/>
<circle cx="159.58" cy="667.75" r="1.9" fill="#f7b900"/>
<circle cx="164.12" cy="668.87" r="1.9" fill="#f7b900"/>
<circle cx="168.66" cy="669.93" r="1.9" fill="#f7b900"/>
<circle cx="173.20" cy="671.68" r="1.9" fill="#f7b900"/>
<circle cx="177.74" cy="672.42" r="1.9" fill="#f7b900"/>
<circle cx="182.28" cy="673.76" r="1.9" fill="#f7b900"/>
<circle cx="186.82" cy="675.37" r="1.9" fill="#f7b900"/>
<circle cx="191.36" cy="676.18" r="1.9" fill="#f7b900"/>
<circle cx="195.90" cy="677.98" r="1.9" fill="#f7b900"/>
<circle cx="200.44" cy="679.27" r="1.9" fill="#f7b900"/>
<circle cx="204.98" cy="680.12" r="1.9" fill="#f7b900"/>
<circle cx="209.52" cy="681.88" r="1.9" fill="#f7b900"/>
<circle cx="214.06" cy="682.74" r="1.9" fill="#f7b900"/>
<circle cx="218.60" cy="683.70" r="1.9" fill="#f7b900"/>
<circle cx="223.14" cy="685.12" r="1.9" fill="#f7b900"/>
<circle cx="227.68" cy="685.53" r="1.9" fill="#f7b900"/>
<circle cx="232.22" cy="686.68" r="1.9" fill="#f7b900"/>
<circle cx="236.76" cy="687.94" r="1.9" fill="#f7b900"/>
<rect x="37.00" y="601.30" width="227.00" height="135.50" fill="none" stroke="#000" stroke-width="1.6"/>
<line x1="37.00" y1="736.80" x2="37.00" y2="738.80" stroke="#000" stroke-width="1.2"/>
<line x1="37.00" y1="601.30" x2="37.00" y2="599.30" stroke="#000" stroke-width="1.2"/>
<line x1="82.40" y1="736.80" x2="82.40" y2="738.80" stroke="#000" stroke-width="1.2"/>
<line x1="82.40" y1="601.30" x2="82.40" y2="599.30" stroke="#000" stroke-width="1.2"/>
<line x1="127.80" y1="736.80" x2="127.80" y2="738.80" stroke="#000" stroke-width="1.2"/>
<line x1="127.80" y1="601.30" x2="127.80" y2="599.30" stroke="#000" stroke-width="1.2"/>
<line x1="173.20" y1="736.80" x2="173.20" y2="738.80" stroke="#000" stroke-width="1.2"/>
<line x1="173.20" y1="601.30" x2="173.20" y2="599.30" stroke="#000" stroke-width="1.2"/>
<line x1="218.60" y1="736.80" x2="218.60" y2="738.80" stroke="#000" stroke-width="1.2"/>
<line x1="218.60" y1="601.30" x2="218.60" y2="599.30" stroke="#000" stroke-width="1.2"/>
<line x1="264.00" y1="736.80" x2="264.00" y2="738.80" stroke="#000" stroke-width="1.2"/>
<line x1="264.00" y1="601.30" x2="264.00" y2="599.30" stroke="#000" stroke-width="1.2"/>
<line x1="37.00" y1="736.80" x2="35.00" y2="736.80" stroke="#000" stroke-width="1.2"/>
<line x1="264.00" y1="736.80" x2="266.00" y2="736.80" stroke="#000" stroke-width="1.2"/>
<line x1="37.00" y1="716.08" x2="35.00" y2="716.08" stroke="#000" stroke-width="1.2"/>
<line x1="264.00" y1="716.08" x2="266.00" y2="716.08" stroke="#000" stroke-width="1.2"/>
<line x1="37.00" y1="695.36" x2="35.00" y2="695.36" stroke="#000" stroke-width="1.2"/>
<line x1="264.00" y1="695.36" x2="266.00" y2="695.36" stroke="#000" stroke-width="1.2"/>
<line x1="37.00" y1="674.64" x2="35.00" y2="674.64" stroke="#000" stroke-width="1.2"/>
<line x1="264.00" y1="674.64" x2="266.00" y2="674.64" stroke="#000" stroke-width="1.2"/>
<line x1="37.00" y1="653.93" x2="35.00" y2="653.93" stroke="#000" stroke-width="1.2"/>
<line x1="264.00" y1="653.93" x2="266.00" y2="653.93" stroke="#000" stroke-width="1.2"/>
<line x1="37.00" y1="633.21" x2="35.00" y2="633.21" stroke="#000" stroke-width="1.2"/>
<line x1="264.00" y1="633.21" x2="266.00" y2="633.21" stroke="#000" stroke-width="1.2"/>
<line x1="37.00" y1="612.49" x2="35.00" y2="612.49" stroke="#000" stroke-width="1.2"/>
<line x1="264.00" y1="612.49" x2="266.00" y2="612.49" stroke="#000" stroke-width="1.2"/>
<line x1="59.70" y1="736.80" x2="59.70" y2="735.20" stroke="#000" stroke-width="1"/>
<line x1="59.70" y1="601.30" x2="59.70" y2="602.90" stroke="#000" stroke-width="1"/>
<line x1="105.10" y1="736.80" x2="105.10" y2="735.20" stroke="#000" stroke-width="1"/>
<line x1="105.10" y1="601.30" x2="105.10" y2="602.90" stroke="#000" stroke-width="1"/>
<line x1="150.50" y1="736.80" x2="150.50" y2="735.20" stroke="#000" stroke-width="1"/>
<line x1="150.50" y1="601.30" x2="150.50" y2="602.90" stroke="#000" stroke-width="1"/>
<line x1="195.90" y1="736.80" x2="195.90" y2="735.20" stroke="#000" stroke-width="1"/>
<line x1="195.90" y1="601.30" x2="195.90" y2="602.90" stroke="#000" stroke-width="1"/>
<line x1="241.30" y1="736.80" x2="241.30" y2="735.20" stroke="#000" stroke-width="1"/>
<line x1="241.30" y1="601.30" x2="241.30" y2="602.90" stroke="#000" stroke-width="1"/>
<line x1="37.00" y1="726.44" x2="38.60" y2="726.44" stroke="#000" stroke-width="1"/>
<line x1="264.00" y1="726.44" x2="262.40" y2="726.44" stroke="#000" stroke-width="1"/>
<line x1="37.00" y1="705.72" x2="38.60" y2="705.72" stroke="#000" stroke-width="1"/>
<line x1="264.00" y1="705.72" x2="262.40" y2="705.72" stroke="#000" stroke-width="1"/>
<line x1="37.00" y1="685.00" x2="38.60" y2="685.00" stroke="#000" stroke-width="1"/>
<line x1="264.00" y1="685.00" x2="262.40" y2="685.00" stroke="#000" stroke-width="1"/>
<line x1="37.00" y1="664.28" x2="38.60" y2="664.28" stroke="#000" stroke-width="1"/>
<line x1="264.00" y1="664.28" x2="262.40" y2="664.28" stroke="#000" stroke-width="1"/>
<line x1="37.00" y1="643.57" x2="38.60" y2="643.57" stroke="#000" stroke-width="1"/>
<line x1="264.00" y1="643.57" x2="262.40" y2="643.57" stroke="#000" stroke-width="1"/>
<line x1="37.00" y1="622.85" x2="38.60" y2="622.85" stroke="#000" stroke-width="1"/>
<line x1="264.00" y1="622.85" x2="262.40" y2="622.85" stroke="#000" stroke-width="1"/>
<line x1="37.00" y1="602.13" x2="38.60" y2="602.13" stroke="#000" stroke-width="1"/>
<line x1="264.00" y1="602.13" x2="262.40" y2="602.13" stroke="#000" stroke-width="1"/>
<text x="0" y="0" transform="translate(37.00,746.50) scale(1.100,1)" style="font-family:'Liberation Serif',serif;font-size:7.30px" text-anchor="middle" stroke="#000" stroke-width="0.30">0</text>
<text x="0" y="0" transform="translate(82.40,746.50) scale(1.100,1)" style="font-family:'Liberation Serif',serif;font-size:7.30px" text-anchor="middle" stroke="#000" stroke-width="0.30">10</text>
<text x="0" y="0" transform="translate(127.80,746.50) scale(1.100,1)" style="font-family:'Liberation Serif',serif;font-size:7.30px" text-anchor="middle" stroke="#000" stroke-width="0.30">20</text>
<text x="0" y="0" transform="translate(173.20,746.50) scale(1.100,1)" style="font-family:'Liberation Serif',serif;font-size:7.30px" text-anchor="middle" stroke="#000" stroke-width="0.30">30</text>
<text x="0" y="0" transform="translate(218.60,746.50) scale(1.100,1)" style="font-family:'Liberation Serif',serif;font-size:7.30px" text-anchor="middle" stroke="#000" stroke-width="0.30">40</text>
<text x="0" y="0" transform="translate(264.00,746.50) scale(1.100,1)" style="font-family:'Liberation Serif',serif;font-size:7.30px" text-anchor="middle" stroke="#000" stroke-width="0.30">50</text>
<text x="0" y="0" transform="translate(32.70,738.70) scale(1.100,1)" style="font-family:'Liberation Serif',serif;font-size:7.30px" text-anchor="end" stroke="#000" stroke-width="0.30">0.70</text>
<text x="0" y="0" transform="translate(32.70,717.98) scale(1.100,1)" style="font-family:'Liberation Serif',serif;font-size:7.30px" text-anchor="end" stroke="#000" stroke-width="0.30">0.75</text>
<text x="0" y="0" transform="translate(32.70,697.26) scale(1.100,1)" style="font-family:'Liberation Serif',serif;font-size:7.30px" text-anchor="end" stroke="#000" stroke-width="0.30">0.80</text>
<text x="0" y="0" transform="translate(32.70,676.54) scale(1.100,1)" style="font-family:'Liberation Serif',serif;font-size:7.30px" text-anchor="end" stroke="#000" stroke-width="0.30">0.85</text>
<text x="0" y="0" transform="translate(32.70,655.83) scale(1.100,1)" style="font-family:'Liberation Serif',serif;font-size:7.30px" text-anchor="end" stroke="#000" stroke-width="0.30">0.90</text>
<text x="0" y="0" transform="translate(32.70,635.11) scale(1.100,1)" style="font-family:'Liberation Serif',serif;font-size:7.30px" text-anchor="end" stroke="#000" stroke-width="0.30">0.95</text>
<text x="0" y="0" transform="translate(32.70,614.39) scale(1.100,1)" style="font-family:'Liberation Serif',serif;font-size:7.30px" text-anchor="end" stroke="#000" stroke-width="0.30">1.00</text>
<text x="150.50" y="594.30" style="font-family:'Liberation Serif',serif;font-size:9.40px;font-weight:bold" text-anchor="middle" textLength="24.0" lengthAdjust="spacingAndGlyphs">Cell 5</text>
<text x="150.50" y="759.10" style="font-family:'Liberation Serif',serif;font-size:9.60px;font-weight:bold" text-anchor="middle" textLength="60.0" lengthAdjust="spacingAndGlyphs">Cycle number</text>
<text x="0" y="0" transform="translate(12.20,669.05) rotate(-90)" style="font-family:'Liberation Sans',sans-serif;font-size:9px;font-weight:bold" text-anchor="middle" textLength="20.5" lengthAdjust="spacingAndGlyphs">SOH</text>
<rect x="151.50" y="609.30" width="68.40" height="36.60" fill="#fff" stroke="#333" stroke-width="1"/>
<line x1="152.30" y1="615.80" x2="174.00" y2="615.80" stroke="#f21212" stroke-width="1.8"/>
<circle cx="163.30" cy="615.80" r="2" fill="#f21212"/>
<text x="176.30" y="618.40" style="font-family:'Liberation Serif',serif;font-size:8.00px;font-weight:bold" text-anchor="start">Real value</text>
<line x1="152.30" y1="627.50" x2="174.00" y2="627.50" stroke="#0f6aa8" stroke-width="1.8"/>
<circle cx="163.30" cy="627.50" r="2" fill="#0f6aa8"/>
<text x="174.50" y="630.10" style="font-family:'Liberation Serif',serif;font-size:8.00px;font-weight:bold" text-anchor="start">Before TL</text>
<line x1="152.30" y1="639.00" x2="174.00" y2="639.00" stroke="#f7b900" stroke-width="1.8"/>
<circle cx="163.30" cy="639.00" r="2" fill="#f7b900"/>
<text x="175.40" y="641.60" style="font-family:'Liberation Serif',serif;font-size:8.00px;font-weight:bold" text-anchor="start">After TL</text>
<line x1="357.96" y1="601.30" x2="357.96" y2="736.80" stroke="#9a9a9a" stroke-width="1.3"/>
<line x1="404.22" y1="601.30" x2="404.22" y2="736.80" stroke="#9a9a9a" stroke-width="1.3"/>
<line x1="450.48" y1="601.30" x2="450.48" y2="736.80" stroke="#9a9a9a" stroke-width="1.3"/>
<line x1="496.74" y1="601.30" x2="496.74" y2="736.80" stroke="#9a9a9a" stroke-width="1.3"/>
<line x1="311.70" y1="698.09" x2="543.00" y2="698.09" stroke="#9a9a9a" stroke-width="1.3"/>
<line x1="311.70" y1="659.37" x2="543.00" y2="659.37" stroke="#9a9a9a" stroke-width="1.3"/>
<line x1="311.70" y1="620.66" x2="543.00" y2="620.66" stroke="#9a9a9a" stroke-width="1.3"/>
<polyline points="311.70,667.50 316.33,680.37 320.95,682.60 325.58,688.12 330.20,691.41 334.83,695.28 339.46,697.70 344.08,704.67 348.71,706.89 353.33,709.12 357.96,709.12 362.59,709.51 367.21,709.12 371.84,710.86 376.46,713.09 381.09,711.35 385.72,711.73 390.34,713.09 394.97,711.73 399.59,712.41 404.22,712.41 408.85,710.18 413.47,709.12 418.10,709.12 422.72,710.96 427.35,709.12 431.98,708.64 436.60,708.64 441.23,709.51 445.85,708.05 450.48,708.05 455.11,706.80 459.73,704.09 464.36,705.63 468.98,706.31 473.61,702.63 478.24,702.15 482.86,704.47 487.49,700.99 492.11,701.67 496.74,701.67 501.37,700.99 505.99,700.99 510.62,699.34 515.24,700.99" fill="none" stroke="#0f6aa8" stroke-width="1.6" stroke-linejoin="round"/>
<circle cx="311.70" cy="667.50" r="1.9" fill="#0f6aa8"/>
<circle cx="316.33" cy="680.37" r="1.9" fill="#0f6aa8"/>
<circle cx="320.95" cy="682.60" r="1.9" fill="#0f6aa8"/>
<circle cx="325.58" cy="688.12" r="1.9" fill="#0f6aa8"/>
<circle cx="330.20" cy="691.41" r="1.9" fill="#0f6aa8"/>
<circle cx="334.83" cy="695.28" r="1.9" fill="#0f6aa8"/>
<circle cx="339.46" cy="697.70" r="1.9" fill="#0f6aa8"/>
<circle cx="344.08" cy="704.67" r="1.9" fill="#0f6aa8"/>
<circle cx="348.71" cy="706.89" r="1.9" fill="#0f6aa8"/>
<circle cx="353.33" cy="709.12" r="1.9" fill="#0f6aa8"/>
<circle cx="357.96" cy="709.12" r="1.9" fill="#0f6aa8"/>
<circle cx="362.59" cy="709.51" r="1.9" fill="#0f6aa8"/>
<circle cx="367.21" cy="709.12" r="1.9" fill="#0f6aa8"/>
<circle cx="371.84" cy="710.86" r="1.9" fill="#0f6aa8"/>
<circle cx="376.46" cy="713.09" r="1.9" fill="#0f6aa8"/>
<circle cx="381.09" cy="711.35" r="1.9" fill="#0f6aa8"/>
<circle cx="385.72" cy="711.73" r="1.9" fill="#0f6aa8"/>
<circle cx="390.34" cy="713.09" r="1.9" fill="#0f6aa8"/>
<circle cx="394.97" cy="711.73" r="1.9" fill="#0f6aa8"/>
<circle cx="399.59" cy="712.41" r="1.9" fill="#0f6aa8"/>
<circle cx="404.22" cy="712.41" r="1.9" fill="#0f6aa8"/>
<circle cx="408.85" cy="710.18" r="1.9" fill="#0f6aa8"/>
<circle cx="413.47" cy="709.12" r="1.9" fill="#0f6aa8"/>
<circle cx="418.10" cy="709.12" r="1.9" fill="#0f6aa8"/>
<circle cx="422.72" cy="710.96" r="1.9" fill="#0f6aa8"/>
<circle cx="427.35" cy="709.12" r="1.9" fill="#0f6aa8"/>
<circle cx="431.98" cy="708.64" r="1.9" fill="#0f6aa8"/>
<circle cx="436.60" cy="708.64" r="1.9" fill="#0f6aa8"/>
<circle cx="441.23" cy="709.51" r="1.9" fill="#0f6aa8"/>
<circle cx="445.85" cy="708.05" r="1.9" fill="#0f6aa8"/>
<circle cx="450.48" cy="708.05" r="1.9" fill="#0f6aa8"/>
<circle cx="455.11" cy="706.80" r="1.9" fill="#0f6aa8"/>
<circle cx="459.73" cy="704.09" r="1.9" fill="#0f6aa8"/>
<circle cx="464.36" cy="705.63" r="1.9" fill="#0f6aa8"/>
<circle cx="468.98" cy="706.31" r="1.9" fill="#0f6aa8"/>
<circle cx="473.61" cy="702.63" r="1.9" fill="#0f6aa8"/>
<circle cx="478.24" cy="702.15" r="1.9" fill="#0f6aa8"/>
<circle cx="482.86" cy="704.47" r="1.9" fill="#0f6aa8"/>
<circle cx="487.49" cy="700.99" r="1.9" fill="#0f6aa8"/>
<circle cx="492.11" cy="701.67" r="1.9" fill="#0f6aa8"/>
<circle cx="496.74" cy="701.67" r="1.9" fill="#0f6aa8"/>
<circle cx="501.37" cy="700.99" r="1.9" fill="#0f6aa8"/>
<circle cx="505.99" cy="700.99" r="1.9" fill="#0f6aa8"/>
<circle cx="510.62" cy="699.34" r="1.9" fill="#0f6aa8"/>
<circle cx="515.24" cy="700.99" r="1.9" fill="#0f6aa8"/>
<polyline points="311.70,623.27 316.33,627.24 320.95,628.30 325.58,628.11 330.20,629.27 334.83,629.46 339.46,629.46 344.08,629.95 348.71,631.01 353.33,630.53 357.96,631.01 362.59,628.79 367.21,628.11 371.84,627.72 376.46,627.72 381.09,626.17 385.72,625.11 390.34,624.53 394.97,624.04 399.59,626.66 404.22,623.27 408.85,625.11 413.47,622.40 418.10,623.08 422.72,624.82 427.35,623.17 431.98,620.85 436.60,623.85 441.23,621.53 445.85,620.17 450.48,623.17 455.11,619.50 459.73,621.53 464.36,624.33 468.98,618.53 473.61,621.53 478.24,621.53 482.86,617.85 487.49,619.21 492.11,620.66 496.74,620.85 501.37,618.53 505.99,619.50 510.62,620.85 515.24,620.66" fill="none" stroke="#f7b900" stroke-width="1.6" stroke-linejoin="round"/>
<circle cx="311.70" cy="623.27" r="1.9" fill="#f7b900"/>
<circle cx="316.33" cy="627.24" r="1.9" fill="#f7b900"/>
<circle cx="320.95" cy="628.30" r="1.9" fill="#f7b900"/>
<circle cx="325.58" cy="628.11" r="1.9" fill="#f7b900"/>
<circle cx="330.20" cy="629.27" r="1.9" fill="#f7b900"/>
<circle cx="334.83" cy="629.46" r="1.9" fill="#f7b900"/>
<circle cx="339.46" cy="629.46" r="1.9" fill="#f7b900"/>
<circle cx="344.08" cy="629.95" r="1.9" fill="#f7b900"/>
<circle cx="348.71" cy="631.01" r="1.9" fill="#f7b900"/>
<circle cx="353.33" cy="630.53" r="1.9" fill="#f7b900"/>
<circle cx="357.96" cy="631.01" r="1.9" fill="#f7b900"/>
<circle cx="362.59" cy="628.79" r="1.9" fill="#f7b900"/>
<circle cx="367.21" cy="628.11" r="1.9" fill="#f7b900"/>
<circle cx="371.84" cy="627.72" r="1.9" fill="#f7b900"/>
<circle cx="376.46" cy="627.72" r="1.9" fill="#f7b900"/>
<circle cx="381.09" cy="626.17" r="1.9" fill="#f7b900"/>
<circle cx="385.72" cy="625.11" r="1.9" fill="#f7b900"/>
<circle cx="390.34" cy="624.53" r="1.9" fill="#f7b900"/>
<circle cx="394.97" cy="624.04" r="1.9" fill="#f7b900"/>
<circle cx="399.59" cy="626.66" r="1.9" fill="#f7b900"/>
<circle cx="404.22" cy="623.27" r="1.9" fill="#f7b900"/>
<circle cx="408.85" cy="625.11" r="1.9" fill="#f7b900"/>
<circle cx="413.47" cy="622.40" r="1.9" fill="#f7b900"/>
<circle cx="418.10" cy="623.08" r="1.9" fill="#f7b900"/>
<circle cx="422.72" cy="624.82" r="1.9" fill="#f7b900"/>
<circle cx="427.35" cy="623.17" r="1.9" fill="#f7b900"/>
<circle cx="431.98" cy="620.85" r="1.9" fill="#f7b900"/>
<circle cx="436.60" cy="623.85" r="1.9" fill="#f7b900"/>
<circle cx="441.23" cy="621.53" r="1.9" fill="#f7b900"/>
<circle cx="445.85" cy="620.17" r="1.9" fill="#f7b900"/>
<circle cx="450.48" cy="623.17" r="1.9" fill="#f7b900"/>
<circle cx="455.11" cy="619.50" r="1.9" fill="#f7b900"/>
<circle cx="459.73" cy="621.53" r="1.9" fill="#f7b900"/>
<circle cx="464.36" cy="624.33" r="1.9" fill="#f7b900"/>
<circle cx="468.98" cy="618.53" r="1.9" fill="#f7b900"/>
<circle cx="473.61" cy="621.53" r="1.9" fill="#f7b900"/>
<circle cx="478.24" cy="621.53" r="1.9" fill="#f7b900"/>
<circle cx="482.86" cy="617.85" r="1.9" fill="#f7b900"/>
<circle cx="487.49" cy="619.21" r="1.9" fill="#f7b900"/>
<circle cx="492.11" cy="620.66" r="1.9" fill="#f7b900"/>
<circle cx="496.74" cy="620.85" r="1.9" fill="#f7b900"/>
<circle cx="501.37" cy="618.53" r="1.9" fill="#f7b900"/>
<circle cx="505.99" cy="619.50" r="1.9" fill="#f7b900"/>
<circle cx="510.62" cy="620.85" r="1.9" fill="#f7b900"/>
<circle cx="515.24" cy="620.66" r="1.9" fill="#f7b900"/>
<rect x="311.70" y="601.30" width="231.30" height="135.50" fill="none" stroke="#000" stroke-width="1.6"/>
<line x1="311.70" y1="736.80" x2="311.70" y2="738.80" stroke="#000" stroke-width="1.2"/>
<line x1="311.70" y1="601.30" x2="311.70" y2="599.30" stroke="#000" stroke-width="1.2"/>
<line x1="357.96" y1="736.80" x2="357.96" y2="738.80" stroke="#000" stroke-width="1.2"/>
<line x1="357.96" y1="601.30" x2="357.96" y2="599.30" stroke="#000" stroke-width="1.2"/>
<line x1="404.22" y1="736.80" x2="404.22" y2="738.80" stroke="#000" stroke-width="1.2"/>
<line x1="404.22" y1="601.30" x2="404.22" y2="599.30" stroke="#000" stroke-width="1.2"/>
<line x1="450.48" y1="736.80" x2="450.48" y2="738.80" stroke="#000" stroke-width="1.2"/>
<line x1="450.48" y1="601.30" x2="450.48" y2="599.30" stroke="#000" stroke-width="1.2"/>
<line x1="496.74" y1="736.80" x2="496.74" y2="738.80" stroke="#000" stroke-width="1.2"/>
<line x1="496.74" y1="601.30" x2="496.74" y2="599.30" stroke="#000" stroke-width="1.2"/>
<line x1="543.00" y1="736.80" x2="543.00" y2="738.80" stroke="#000" stroke-width="1.2"/>
<line x1="543.00" y1="601.30" x2="543.00" y2="599.30" stroke="#000" stroke-width="1.2"/>
<line x1="311.70" y1="736.80" x2="309.70" y2="736.80" stroke="#000" stroke-width="1.2"/>
<line x1="543.00" y1="736.80" x2="545.00" y2="736.80" stroke="#000" stroke-width="1.2"/>
<line x1="311.70" y1="698.09" x2="309.70" y2="698.09" stroke="#000" stroke-width="1.2"/>
<line x1="543.00" y1="698.09" x2="545.00" y2="698.09" stroke="#000" stroke-width="1.2"/>
<line x1="311.70" y1="659.37" x2="309.70" y2="659.37" stroke="#000" stroke-width="1.2"/>
<line x1="543.00" y1="659.37" x2="545.00" y2="659.37" stroke="#000" stroke-width="1.2"/>
<line x1="311.70" y1="620.66" x2="309.70" y2="620.66" stroke="#000" stroke-width="1.2"/>
<line x1="543.00" y1="620.66" x2="545.00" y2="620.66" stroke="#000" stroke-width="1.2"/>
<line x1="334.83" y1="736.80" x2="334.83" y2="735.20" stroke="#000" stroke-width="1"/>
<line x1="334.83" y1="601.30" x2="334.83" y2="602.90" stroke="#000" stroke-width="1"/>
<line x1="381.09" y1="736.80" x2="381.09" y2="735.20" stroke="#000" stroke-width="1"/>
<line x1="381.09" y1="601.30" x2="381.09" y2="602.90" stroke="#000" stroke-width="1"/>
<line x1="427.35" y1="736.80" x2="427.35" y2="735.20" stroke="#000" stroke-width="1"/>
<line x1="427.35" y1="601.30" x2="427.35" y2="602.90" stroke="#000" stroke-width="1"/>
<line x1="473.61" y1="736.80" x2="473.61" y2="735.20" stroke="#000" stroke-width="1"/>
<line x1="473.61" y1="601.30" x2="473.61" y2="602.90" stroke="#000" stroke-width="1"/>
<line x1="519.87" y1="736.80" x2="519.87" y2="735.20" stroke="#000" stroke-width="1"/>
<line x1="519.87" y1="601.30" x2="519.87" y2="602.90" stroke="#000" stroke-width="1"/>
<line x1="311.70" y1="717.44" x2="313.30" y2="717.44" stroke="#000" stroke-width="1"/>
<line x1="543.00" y1="717.44" x2="541.40" y2="717.44" stroke="#000" stroke-width="1"/>
<line x1="311.70" y1="678.73" x2="313.30" y2="678.73" stroke="#000" stroke-width="1"/>
<line x1="543.00" y1="678.73" x2="541.40" y2="678.73" stroke="#000" stroke-width="1"/>
<line x1="311.70" y1="640.01" x2="313.30" y2="640.01" stroke="#000" stroke-width="1"/>
<line x1="543.00" y1="640.01" x2="541.40" y2="640.01" stroke="#000" stroke-width="1"/>
<text x="0" y="0" transform="translate(311.70,746.50) scale(1.100,1)" style="font-family:'Liberation Serif',serif;font-size:7.30px" text-anchor="middle" stroke="#000" stroke-width="0.30">0</text>
<text x="0" y="0" transform="translate(357.96,746.50) scale(1.100,1)" style="font-family:'Liberation Serif',serif;font-size:7.30px" text-anchor="middle" stroke="#000" stroke-width="0.30">10</text>
<text x="0" y="0" transform="translate(404.22,746.50) scale(1.100,1)" style="font-family:'Liberation Serif',serif;font-size:7.30px" text-anchor="middle" stroke="#000" stroke-width="0.30">20</text>
<text x="0" y="0" transform="translate(450.48,746.50) scale(1.100,1)" style="font-family:'Liberation Serif',serif;font-size:7.30px" text-anchor="middle" stroke="#000" stroke-width="0.30">30</text>
<text x="0" y="0" transform="translate(496.74,746.50) scale(1.100,1)" style="font-family:'Liberation Serif',serif;font-size:7.30px" text-anchor="middle" stroke="#000" stroke-width="0.30">40</text>
<text x="0" y="0" transform="translate(543.00,746.50) scale(1.100,1)" style="font-family:'Liberation Serif',serif;font-size:7.30px" text-anchor="middle" stroke="#000" stroke-width="0.30">50</text>
<text x="0" y="0" transform="translate(307.40,738.70) scale(1.100,1)" style="font-family:'Liberation Serif',serif;font-size:7.30px" text-anchor="end" stroke="#000" stroke-width="0.30">−12</text>
<text x="0" y="0" transform="translate(307.40,699.99) scale(1.100,1)" style="font-family:'Liberation Serif',serif;font-size:7.30px" text-anchor="end" stroke="#000" stroke-width="0.30">−8</text>
<text x="0" y="0" transform="translate(307.40,661.27) scale(1.100,1)" style="font-family:'Liberation Serif',serif;font-size:7.30px" text-anchor="end" stroke="#000" stroke-width="0.30">−4</text>
<text x="0" y="0" transform="translate(307.40,622.56) scale(1.100,1)" style="font-family:'Liberation Serif',serif;font-size:7.30px" text-anchor="end" stroke="#000" stroke-width="0.30">0</text>
<text x="427.35" y="594.30" style="font-family:'Liberation Serif',serif;font-size:9.40px;font-weight:bold" text-anchor="middle" textLength="65.5" lengthAdjust="spacingAndGlyphs">Estimated error</text>
<text x="427.35" y="759.10" style="font-family:'Liberation Serif',serif;font-size:9.60px;font-weight:bold" text-anchor="middle" textLength="60.0" lengthAdjust="spacingAndGlyphs">Cycle number</text>
<text x="0" y="0" transform="translate(292.30,669.05) rotate(-90)" style="font-family:'Liberation Serif',serif;font-size:9px;font-weight:bold" text-anchor="middle" textLength="38" lengthAdjust="spacingAndGlyphs">Error (%)</text>
<rect x="474.70" y="706.60" width="61.60" height="24.60" fill="#fff" stroke="#333" stroke-width="1"/>
<line x1="475.50" y1="713.50" x2="497.20" y2="713.50" stroke="#0f6aa8" stroke-width="1.8"/>
<circle cx="486.50" cy="713.50" r="2" fill="#0f6aa8"/>
<text x="497.40" y="716.10" style="font-family:'Liberation Serif',serif;font-size:8.00px;font-weight:bold" text-anchor="start">Before TL</text>
<line x1="475.50" y1="725.00" x2="497.20" y2="725.00" stroke="#f7b900" stroke-width="1.8"/>
<circle cx="486.50" cy="725.00" r="2" fill="#f7b900"/>
<text x="497.40" y="727.60" style="font-family:'Liberation Serif',serif;font-size:8.00px;font-weight:bold" text-anchor="start">After TL</text>
<text x="6.10" y="13.20" style="font-family:'Liberation Serif',serif;font-size:10.00px;font-weight:bold" text-anchor="start">(a)</text>
<text x="5.10" y="208.60" style="font-family:'Liberation Serif',serif;font-size:10.00px;font-weight:bold" text-anchor="start">(b)</text>
<text x="5.80" y="401.60" style="font-family:'Liberation Serif',serif;font-size:10.00px;font-weight:bold" text-anchor="start">(c)</text>
<text x="7.30" y="598.00" style="font-family:'Liberation Serif',serif;font-size:10.00px;font-weight:bold" text-anchor="start">(d)</text>
</svg>
</body></html>
